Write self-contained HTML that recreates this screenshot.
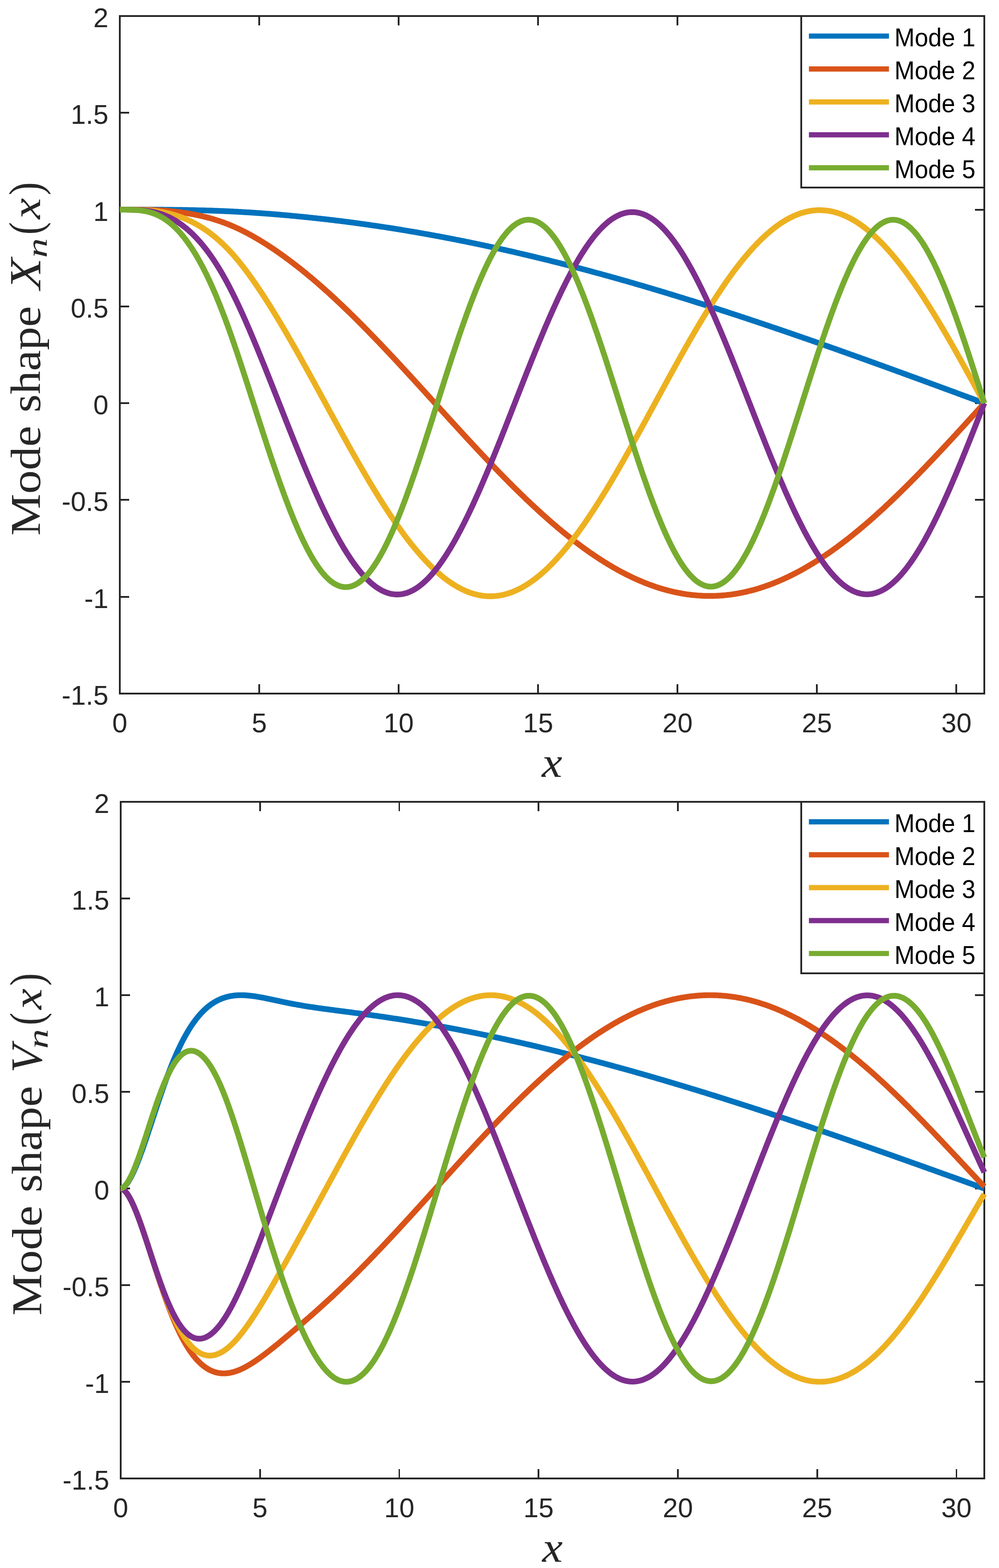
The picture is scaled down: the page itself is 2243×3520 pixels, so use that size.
<!DOCTYPE html>
<html><head><meta charset="utf-8"><title>Mode shapes</title><style>html,body{margin:0;padding:0;background:#fff}svg{display:block}</style></head><body>
<svg width="2243" height="3520" viewBox="0 0 2243 3520">
<style>
.ax{fill:none;stroke:#262626;stroke-width:3.9;stroke-linecap:butt;shape-rendering:crispEdges}
.lg{fill:#fff;stroke:#262626;stroke-width:3.9;shape-rendering:crispEdges}
.cv path{fill:none;stroke-width:12.9;stroke-linejoin:round;stroke-linecap:butt}
.leg path{fill:none;stroke-width:11.7}
.tk{font-family:"Liberation Sans",Arial,Helvetica,sans-serif;font-size:61px;fill:#262626}
.le{font-family:"Liberation Sans",Arial,Helvetica,sans-serif;font-size:57px;fill:#000}
.rm{font-family:"Liberation Serif","Times New Roman",serif;font-size:100px;fill:#262626}
.mi{font-family:"Liberation Serif","Times New Roman",serif;font-style:italic;font-size:100px;fill:#262626}
.sub{font-size:68px}
</style>
<rect width="2243" height="3520" fill="#fff"/>
<path class="ax" d="M269.0 1556.9V1535.9M269.0 36.1V57.1M582.1 1556.9V1535.9M582.1 36.1V57.1M895.1 1556.9V1535.9M895.1 36.1V57.1M1208.2 1556.9V1535.9M1208.2 36.1V57.1M1521.3 1556.9V1535.9M1521.3 36.1V57.1M1834.3 1556.9V1535.9M1834.3 36.1V57.1M2147.4 1556.9V1535.9M2147.4 36.1V57.1M269.0 1556.9H290.0M2210.0 1556.9H2189.0M269.0 1339.6H290.0M2210.0 1339.6H2189.0M269.0 1122.4H290.0M2210.0 1122.4H2189.0M269.0 905.1H290.0M2210.0 905.1H2189.0M269.0 687.9H290.0M2210.0 687.9H2189.0M269.0 470.6H290.0M2210.0 470.6H2189.0M269.0 253.4H290.0M2210.0 253.4H2189.0M269.0 36.1H290.0M2210.0 36.1H2189.0"/>
<rect class="ax" x="269.0" y="36.1" width="1941.0" height="1520.8"/>
<text class="tk" x="269.0" y="1644.1" text-anchor="middle">0</text>
<text class="tk" x="582.1" y="1644.1" text-anchor="middle">5</text>
<text class="tk" x="895.1" y="1644.1" text-anchor="middle">10</text>
<text class="tk" x="1208.2" y="1644.1" text-anchor="middle">15</text>
<text class="tk" x="1521.3" y="1644.1" text-anchor="middle">20</text>
<text class="tk" x="1834.3" y="1644.1" text-anchor="middle">25</text>
<text class="tk" x="2147.4" y="1644.1" text-anchor="middle">30</text>
<text class="tk" x="243.5" y="1581.9" text-anchor="end">-1.5</text>
<text class="tk" x="243.5" y="1364.6" text-anchor="end">-1</text>
<text class="tk" x="243.5" y="1147.4" text-anchor="end">-0.5</text>
<text class="tk" x="243.5" y="930.1" text-anchor="end">0</text>
<text class="tk" x="243.5" y="712.9" text-anchor="end">0.5</text>
<text class="tk" x="243.5" y="495.6" text-anchor="end">1</text>
<text class="tk" x="243.5" y="278.4" text-anchor="end">1.5</text>
<text class="tk" x="243.5" y="61.1" text-anchor="end">2</text>
<text class="mi" x="1216.4" y="1743.6" style="font-size:95.4px" textLength="45.9" lengthAdjust="spacingAndGlyphs">x</text>
<g class="cv"><path d="M269.0 470.6 L270.6 470.6 L272.1 470.6 L273.7 470.6 L275.3 470.6 L276.8 470.6 L278.4 470.6 L280.0 470.6 L281.5 470.6 L283.1 470.6 L284.7 470.6 L286.2 470.6 L287.8 470.6 L289.3 470.6 L290.9 470.6 L292.5 470.6 L294.0 470.6 L295.6 470.6 L297.2 470.6 L298.7 470.6 L300.3 470.6 L301.9 470.6 L303.4 470.6 L305.0 470.6 L306.6 470.6 L308.1 470.6 L309.7 470.6 L311.3 470.6 L312.8 470.6 L314.4 470.6 L316.0 470.6 L317.5 470.6 L319.1 470.6 L320.7 470.6 L322.2 470.6 L323.8 470.7 L325.4 470.7 L326.9 470.7 L328.5 470.7 L330.0 470.7 L331.6 470.7 L333.2 470.7 L334.7 470.7 L336.3 470.7 L337.9 470.7 L339.4 470.7 L341.0 470.7 L342.6 470.7 L344.1 470.7 L345.7 470.7 L347.3 470.7 L348.8 470.7 L350.4 470.7 L352.0 470.8 L353.5 470.8 L355.1 470.8 L356.7 470.8 L358.2 470.8 L359.8 470.8 L361.4 470.8 L362.9 470.8 L364.5 470.8 L366.1 470.8 L367.6 470.9 L369.2 470.9 L370.7 470.9 L372.3 470.9 L373.9 470.9 L375.4 470.9 L377.0 470.9 L378.6 471.0 L380.1 471.0 L381.7 471.0 L383.3 471.0 L384.8 471.0 L386.4 471.0 L388.0 471.1 L389.5 471.1 L391.1 471.1 L392.7 471.1 L394.2 471.1 L395.8 471.1 L397.4 471.2 L398.9 471.2 L400.5 471.2 L402.1 471.2 L403.6 471.3 L405.2 471.3 L406.7 471.3 L408.3 471.3 L409.9 471.3 L411.4 471.4 L413.0 471.4 L414.6 471.4 L416.1 471.5 L417.7 471.5 L419.3 471.5 L420.8 471.5 L422.4 471.6 L424.0 471.6 L425.5 471.6 L427.1 471.7 L428.7 471.7 L430.2 471.7 L431.8 471.7 L433.4 471.8 L434.9 471.8 L436.5 471.8 L438.1 471.9 L439.6 471.9 L441.2 472.0 L442.8 472.0 L444.3 472.0 L445.9 472.1 L447.4 472.1 L449.0 472.1 L450.6 472.2 L452.1 472.2 L453.7 472.3 L455.3 472.3 L456.8 472.3 L458.4 472.4 L460.0 472.4 L461.5 472.5 L463.1 472.5 L464.7 472.6 L466.2 472.6 L467.8 472.7 L469.4 472.7 L470.9 472.8 L472.5 472.8 L474.1 472.8 L475.6 472.9 L477.2 473.0 L478.8 473.0 L480.3 473.1 L481.9 473.1 L483.4 473.2 L485.0 473.2 L486.6 473.3 L488.1 473.3 L489.7 473.4 L491.3 473.5 L492.8 473.5 L494.4 473.6 L496.0 473.6 L497.5 473.7 L499.1 473.8 L500.7 473.8 L502.2 473.9 L503.8 474.0 L505.4 474.0 L506.9 474.1 L508.5 474.2 L510.1 474.2 L511.6 474.3 L513.2 474.4 L514.8 474.4 L516.3 474.5 L517.9 474.6 L519.5 474.7 L521.0 474.7 L522.6 474.8 L524.1 474.9 L525.7 475.0 L527.3 475.1 L528.8 475.1 L530.4 475.2 L532.0 475.3 L533.5 475.4 L535.1 475.5 L536.7 475.6 L538.2 475.6 L539.8 475.7 L541.4 475.8 L542.9 475.9 L544.5 476.0 L546.1 476.1 L547.6 476.2 L549.2 476.3 L550.8 476.4 L552.3 476.5 L553.9 476.6 L555.5 476.6 L557.0 476.7 L558.6 476.8 L560.2 476.9 L561.7 477.0 L563.3 477.1 L564.8 477.2 L566.4 477.3 L568.0 477.4 L569.5 477.6 L571.1 477.7 L572.7 477.8 L574.2 477.9 L575.8 478.0 L577.4 478.1 L578.9 478.2 L580.5 478.3 L582.1 478.4 L583.6 478.5 L585.2 478.6 L586.8 478.7 L588.3 478.9 L589.9 479.0 L591.5 479.1 L593.0 479.2 L594.6 479.3 L596.2 479.4 L597.7 479.6 L599.3 479.7 L600.8 479.8 L602.4 479.9 L604.0 480.0 L605.5 480.2 L607.1 480.3 L608.7 480.4 L610.2 480.5 L611.8 480.6 L613.4 480.8 L614.9 480.9 L616.5 481.0 L618.1 481.2 L619.6 481.3 L621.2 481.4 L622.8 481.5 L624.3 481.7 L625.9 481.8 L627.5 481.9 L629.0 482.1 L630.6 482.2 L632.2 482.3 L633.7 482.5 L635.3 482.6 L636.9 482.7 L638.4 482.9 L640.0 483.0 L641.5 483.1 L643.1 483.3 L644.7 483.4 L647.8 483.7 L650.9 484.0 L654.1 484.3 L657.2 484.6 L660.3 484.9 L663.5 485.2 L666.6 485.5 L669.7 485.8 L672.9 486.1 L676.0 486.4 L679.1 486.7 L682.2 487.0 L685.4 487.3 L688.5 487.6 L691.6 487.9 L694.8 488.3 L697.9 488.6 L701.0 488.9 L704.2 489.3 L707.3 489.6 L710.4 489.9 L713.6 490.3 L716.7 490.6 L719.8 491.0 L722.9 491.3 L726.1 491.7 L729.2 492.0 L732.3 492.4 L735.5 492.7 L738.6 493.1 L741.7 493.5 L744.9 493.8 L748.0 494.2 L751.1 494.6 L754.2 495.0 L757.4 495.3 L760.5 495.7 L763.6 496.1 L766.8 496.5 L769.9 496.9 L773.0 497.3 L776.2 497.7 L779.3 498.1 L782.4 498.5 L785.6 498.9 L788.7 499.3 L791.8 499.7 L794.9 500.1 L798.1 500.6 L801.2 501.0 L804.3 501.4 L807.5 501.8 L810.6 502.3 L813.7 502.7 L816.9 503.1 L820.0 503.6 L823.1 504.0 L826.3 504.5 L829.4 504.9 L832.5 505.4 L835.6 505.8 L838.8 506.3 L841.9 506.7 L845.0 507.2 L848.2 507.6 L851.3 508.1 L854.4 508.6 L857.6 509.0 L860.7 509.5 L863.8 510.0 L867.0 510.5 L870.1 511.0 L873.2 511.4 L876.3 511.9 L879.5 512.4 L882.6 512.9 L885.7 513.4 L888.9 513.9 L892.0 514.4 L895.1 514.9 L898.3 515.4 L901.4 515.9 L904.5 516.5 L907.7 517.0 L910.8 517.5 L913.9 518.0 L917.0 518.5 L920.2 519.1 L923.3 519.6 L926.4 520.1 L929.6 520.7 L932.7 521.2 L935.8 521.7 L939.0 522.3 L942.1 522.8 L945.2 523.4 L948.4 523.9 L951.5 524.5 L954.6 525.0 L957.7 525.6 L960.9 526.2 L964.0 526.7 L967.1 527.3 L970.3 527.9 L973.4 528.4 L976.5 529.0 L979.7 529.6 L982.8 530.2 L985.9 530.7 L989.0 531.3 L992.2 531.9 L995.3 532.5 L998.4 533.1 L1001.6 533.7 L1004.7 534.3 L1007.8 534.9 L1011.0 535.5 L1014.1 536.1 L1017.2 536.7 L1020.4 537.3 L1023.5 538.0 L1026.6 538.6 L1029.7 539.2 L1032.9 539.8 L1036.0 540.4 L1039.1 541.1 L1042.3 541.7 L1045.4 542.3 L1048.5 543.0 L1051.7 543.6 L1054.8 544.2 L1057.9 544.9 L1061.1 545.5 L1064.2 546.2 L1067.3 546.8 L1070.4 547.5 L1073.6 548.1 L1076.7 548.8 L1079.8 549.5 L1083.0 550.1 L1086.1 550.8 L1089.2 551.5 L1092.4 552.1 L1095.5 552.8 L1098.6 553.5 L1101.8 554.2 L1104.9 554.8 L1108.0 555.5 L1111.1 556.2 L1114.3 556.9 L1117.4 557.6 L1120.5 558.3 L1123.7 559.0 L1126.8 559.7 L1129.9 560.4 L1133.1 561.1 L1136.2 561.8 L1139.3 562.5 L1142.4 563.2 L1145.6 563.9 L1148.7 564.6 L1151.8 565.3 L1155.0 566.1 L1158.1 566.8 L1161.2 567.5 L1164.4 568.2 L1167.5 569.0 L1170.6 569.7 L1173.8 570.4 L1176.9 571.2 L1180.0 571.9 L1183.1 572.6 L1186.3 573.4 L1189.4 574.1 L1192.5 574.9 L1195.7 575.6 L1198.8 576.4 L1201.9 577.1 L1205.1 577.9 L1208.2 578.7 L1211.3 579.4 L1214.5 580.2 L1217.6 580.9 L1220.7 581.7 L1223.8 582.5 L1227.0 583.3 L1230.1 584.0 L1233.2 584.8 L1236.4 585.6 L1239.5 586.4 L1242.6 587.2 L1245.8 587.9 L1248.9 588.7 L1252.0 589.5 L1255.2 590.3 L1258.3 591.1 L1261.4 591.9 L1264.5 592.7 L1267.7 593.5 L1270.8 594.3 L1273.9 595.1 L1277.1 595.9 L1280.2 596.8 L1283.3 597.6 L1286.5 598.4 L1289.6 599.2 L1292.7 600.0 L1295.9 600.8 L1299.0 601.7 L1302.1 602.5 L1305.2 603.3 L1308.4 604.2 L1311.5 605.0 L1314.6 605.8 L1317.8 606.7 L1320.9 607.5 L1324.0 608.3 L1327.2 609.2 L1330.3 610.0 L1333.4 610.9 L1336.5 611.7 L1339.7 612.6 L1342.8 613.4 L1345.9 614.3 L1349.1 615.1 L1352.2 616.0 L1355.3 616.9 L1358.5 617.7 L1361.6 618.6 L1364.7 619.5 L1367.9 620.3 L1371.0 621.2 L1374.1 622.1 L1377.2 623.0 L1380.4 623.8 L1383.5 624.7 L1386.6 625.6 L1389.8 626.5 L1392.9 627.4 L1396.0 628.3 L1399.2 629.2 L1402.3 630.0 L1405.4 630.9 L1408.6 631.8 L1411.7 632.7 L1414.8 633.6 L1417.9 634.5 L1421.1 635.4 L1424.2 636.3 L1427.3 637.3 L1430.5 638.2 L1433.6 639.1 L1436.7 640.0 L1439.9 640.9 L1443.0 641.8 L1446.1 642.7 L1449.3 643.7 L1452.4 644.6 L1455.5 645.5 L1458.6 646.4 L1461.8 647.4 L1464.9 648.3 L1468.0 649.2 L1471.2 650.2 L1474.3 651.1 L1477.4 652.0 L1480.6 653.0 L1483.7 653.9 L1486.8 654.9 L1490.0 655.8 L1493.1 656.7 L1496.2 657.7 L1499.3 658.6 L1502.5 659.6 L1505.6 660.5 L1508.7 661.5 L1511.9 662.5 L1515.0 663.4 L1518.1 664.4 L1521.3 665.3 L1524.4 666.3 L1527.5 667.3 L1530.6 668.2 L1533.8 669.2 L1536.9 670.2 L1540.0 671.1 L1543.2 672.1 L1546.3 673.1 L1549.4 674.1 L1552.6 675.0 L1555.7 676.0 L1558.8 677.0 L1562.0 678.0 L1565.1 679.0 L1568.2 680.0 L1571.3 681.0 L1574.5 681.9 L1577.6 682.9 L1580.7 683.9 L1583.9 684.9 L1587.0 685.9 L1590.1 686.9 L1593.3 687.9 L1596.4 688.9 L1599.5 689.9 L1602.7 690.9 L1605.8 691.9 L1608.9 692.9 L1612.0 693.9 L1615.2 694.9 L1618.3 696.0 L1621.4 697.0 L1624.6 698.0 L1627.7 699.0 L1630.8 700.0 L1634.0 701.0 L1637.1 702.1 L1640.2 703.1 L1643.4 704.1 L1646.5 705.1 L1649.6 706.1 L1652.7 707.2 L1655.9 708.2 L1659.0 709.2 L1662.1 710.3 L1665.3 711.3 L1668.4 712.3 L1671.5 713.4 L1674.7 714.4 L1677.8 715.4 L1680.9 716.5 L1684.1 717.5 L1687.2 718.6 L1690.3 719.6 L1693.4 720.7 L1696.6 721.7 L1699.7 722.7 L1702.8 723.8 L1706.0 724.8 L1709.1 725.9 L1712.2 726.9 L1715.4 728.0 L1718.5 729.1 L1721.6 730.1 L1724.8 731.2 L1727.9 732.2 L1731.0 733.3 L1734.1 734.3 L1737.3 735.4 L1740.4 736.5 L1743.5 737.5 L1746.7 738.6 L1749.8 739.7 L1752.9 740.7 L1756.1 741.8 L1759.2 742.9 L1762.3 743.9 L1765.4 745.0 L1768.6 746.1 L1771.7 747.2 L1774.8 748.2 L1778.0 749.3 L1781.1 750.4 L1784.2 751.5 L1787.4 752.6 L1790.5 753.6 L1793.6 754.7 L1796.8 755.8 L1799.9 756.9 L1803.0 758.0 L1806.1 759.1 L1809.3 760.2 L1812.4 761.2 L1815.5 762.3 L1818.7 763.4 L1821.8 764.5 L1824.9 765.6 L1828.1 766.7 L1831.2 767.8 L1834.3 768.9 L1837.5 770.0 L1840.6 771.1 L1843.7 772.2 L1846.8 773.3 L1850.0 774.4 L1853.1 775.5 L1856.2 776.6 L1859.4 777.7 L1862.5 778.8 L1865.6 779.9 L1868.8 781.0 L1871.9 782.1 L1875.0 783.2 L1878.2 784.3 L1881.3 785.4 L1884.4 786.6 L1887.5 787.7 L1890.7 788.8 L1893.8 789.9 L1896.9 791.0 L1900.1 792.1 L1903.2 793.2 L1906.3 794.4 L1909.5 795.5 L1912.6 796.6 L1915.7 797.7 L1918.8 798.8 L1922.0 799.9 L1925.1 801.1 L1928.2 802.2 L1931.4 803.3 L1934.5 804.4 L1937.6 805.6 L1940.8 806.7 L1943.9 807.8 L1947.0 808.9 L1950.2 810.1 L1953.3 811.2 L1956.4 812.3 L1959.5 813.4 L1962.7 814.6 L1965.8 815.7 L1968.9 816.8 L1972.1 818.0 L1975.2 819.1 L1978.3 820.2 L1981.5 821.4 L1984.6 822.5 L1987.7 823.6 L1990.9 824.8 L1994.0 825.9 L1997.1 827.0 L2000.2 828.2 L2003.4 829.3 L2006.5 830.4 L2009.6 831.6 L2012.8 832.7 L2015.9 833.9 L2019.0 835.0 L2022.2 836.1 L2025.3 837.3 L2028.4 838.4 L2031.6 839.6 L2034.7 840.7 L2037.8 841.8 L2040.9 843.0 L2044.1 844.1 L2047.2 845.3 L2050.3 846.4 L2053.5 847.6 L2056.6 848.7 L2059.7 849.8 L2062.9 851.0 L2066.0 852.1 L2069.1 853.3 L2072.3 854.4 L2075.4 855.6 L2078.5 856.7 L2081.6 857.9 L2084.8 859.0 L2087.9 860.2 L2091.0 861.3 L2094.2 862.5 L2097.3 863.6 L2100.4 864.8 L2103.6 865.9 L2106.7 867.1 L2109.8 868.2 L2112.9 869.4 L2116.1 870.5 L2119.2 871.7 L2122.3 872.8 L2125.5 874.0 L2128.6 875.1 L2131.7 876.3 L2134.9 877.4 L2138.0 878.6 L2141.1 879.7 L2144.3 880.9 L2147.4 882.0 L2150.5 883.2 L2153.6 884.4 L2156.8 885.5 L2159.9 886.7 L2163.0 887.8 L2166.2 889.0 L2169.3 890.1 L2172.4 891.3 L2175.6 892.4 L2178.7 893.6 L2181.8 894.7 L2185.0 895.9 L2188.1 897.0 L2191.2 898.2 L2194.3 899.4 L2197.5 900.5 L2200.6 901.7 L2203.7 902.8 L2206.9 904.0 L2210.0 905.1" stroke="#0072BD"/>
<path d="M269.0 470.6 L270.6 470.6 L272.1 470.6 L273.7 470.6 L275.3 470.6 L276.8 470.6 L278.4 470.6 L280.0 470.6 L281.5 470.6 L283.1 470.6 L284.7 470.6 L286.2 470.6 L287.8 470.6 L289.3 470.6 L290.9 470.6 L292.5 470.6 L294.0 470.6 L295.6 470.6 L297.2 470.6 L298.7 470.7 L300.3 470.7 L301.9 470.7 L303.4 470.7 L305.0 470.7 L306.6 470.7 L308.1 470.7 L309.7 470.7 L311.3 470.8 L312.8 470.8 L314.4 470.8 L316.0 470.8 L317.5 470.8 L319.1 470.9 L320.7 470.9 L322.2 470.9 L323.8 470.9 L325.4 471.0 L326.9 471.0 L328.5 471.0 L330.0 471.1 L331.6 471.1 L333.2 471.2 L334.7 471.2 L336.3 471.3 L337.9 471.3 L339.4 471.4 L341.0 471.4 L342.6 471.5 L344.1 471.5 L345.7 471.6 L347.3 471.7 L348.8 471.7 L350.4 471.8 L352.0 471.9 L353.5 472.0 L355.1 472.0 L356.7 472.1 L358.2 472.2 L359.8 472.3 L361.4 472.4 L362.9 472.5 L364.5 472.6 L366.1 472.7 L367.6 472.8 L369.2 472.9 L370.7 473.0 L372.3 473.2 L373.9 473.3 L375.4 473.4 L377.0 473.5 L378.6 473.7 L380.1 473.8 L381.7 473.9 L383.3 474.1 L384.8 474.2 L386.4 474.4 L388.0 474.6 L389.5 474.7 L391.1 474.9 L392.7 475.0 L394.2 475.2 L395.8 475.4 L397.4 475.6 L398.9 475.8 L400.5 476.0 L402.1 476.2 L403.6 476.4 L405.2 476.6 L406.7 476.8 L408.3 477.0 L409.9 477.2 L411.4 477.4 L413.0 477.6 L414.6 477.9 L416.1 478.1 L417.7 478.4 L419.3 478.6 L420.8 478.9 L422.4 479.1 L424.0 479.4 L425.5 479.6 L427.1 479.9 L428.7 480.2 L430.2 480.5 L431.8 480.7 L433.4 481.0 L434.9 481.3 L436.5 481.6 L438.1 481.9 L439.6 482.2 L441.2 482.6 L442.8 482.9 L444.3 483.2 L445.9 483.5 L447.4 483.9 L449.0 484.2 L450.6 484.6 L452.1 484.9 L453.7 485.3 L455.3 485.7 L456.8 486.0 L458.4 486.4 L460.0 486.8 L461.5 487.2 L463.1 487.6 L464.7 488.0 L466.2 488.4 L467.8 488.8 L469.4 489.2 L470.9 489.7 L472.5 490.1 L474.1 490.5 L475.6 491.0 L477.2 491.4 L478.8 491.9 L480.3 492.4 L481.9 492.8 L483.4 493.3 L485.0 493.8 L486.6 494.3 L488.1 494.8 L489.7 495.3 L491.3 495.8 L492.8 496.4 L494.4 496.9 L496.0 497.4 L497.5 498.0 L499.1 498.5 L500.7 499.1 L502.2 499.7 L503.8 500.2 L505.4 500.8 L506.9 501.4 L508.5 502.0 L510.1 502.6 L511.6 503.3 L513.2 503.9 L514.8 504.5 L516.3 505.1 L517.9 505.8 L519.5 506.5 L521.0 507.1 L522.6 507.8 L524.1 508.5 L525.7 509.2 L527.3 509.8 L528.8 510.6 L530.4 511.3 L532.0 512.0 L533.5 512.7 L535.1 513.4 L536.7 514.2 L538.2 514.9 L539.8 515.7 L541.4 516.4 L542.9 517.2 L544.5 518.0 L546.1 518.8 L547.6 519.6 L549.2 520.4 L550.8 521.2 L552.3 522.0 L553.9 522.8 L555.5 523.6 L557.0 524.5 L558.6 525.3 L560.2 526.2 L561.7 527.0 L563.3 527.9 L564.8 528.8 L566.4 529.6 L568.0 530.5 L569.5 531.4 L571.1 532.3 L572.7 533.2 L574.2 534.1 L575.8 535.0 L577.4 535.9 L578.9 536.9 L580.5 537.8 L582.1 538.7 L583.6 539.7 L585.2 540.6 L586.8 541.6 L588.3 542.5 L589.9 543.5 L591.5 544.5 L593.0 545.5 L594.6 546.4 L596.2 547.4 L597.7 548.4 L599.3 549.4 L600.8 550.4 L602.4 551.4 L604.0 552.5 L605.5 553.5 L607.1 554.5 L608.7 555.5 L610.2 556.6 L611.8 557.6 L613.4 558.7 L614.9 559.7 L616.5 560.8 L618.1 561.9 L619.6 562.9 L621.2 564.0 L622.8 565.1 L624.3 566.2 L625.9 567.3 L627.5 568.4 L629.0 569.5 L630.6 570.6 L632.2 571.7 L633.7 572.8 L635.3 573.9 L636.9 575.0 L638.4 576.2 L640.0 577.3 L641.5 578.5 L643.1 579.6 L644.7 580.8 L647.8 583.1 L650.9 585.4 L654.1 587.8 L657.2 590.2 L660.3 592.6 L663.5 595.0 L666.6 597.4 L669.7 599.9 L672.9 602.3 L676.0 604.8 L679.1 607.3 L682.2 609.9 L685.4 612.4 L688.5 615.0 L691.6 617.6 L694.8 620.2 L697.9 622.8 L701.0 625.4 L704.2 628.1 L707.3 630.7 L710.4 633.4 L713.6 636.1 L716.7 638.8 L719.8 641.6 L722.9 644.3 L726.1 647.1 L729.2 649.9 L732.3 652.7 L735.5 655.5 L738.6 658.3 L741.7 661.2 L744.9 664.1 L748.0 666.9 L751.1 669.8 L754.2 672.7 L757.4 675.7 L760.5 678.6 L763.6 681.6 L766.8 684.5 L769.9 687.5 L773.0 690.5 L776.2 693.5 L779.3 696.5 L782.4 699.5 L785.6 702.6 L788.7 705.7 L791.8 708.7 L794.9 711.8 L798.1 714.9 L801.2 718.0 L804.3 721.1 L807.5 724.3 L810.6 727.4 L813.7 730.6 L816.9 733.7 L820.0 736.9 L823.1 740.1 L826.3 743.3 L829.4 746.5 L832.5 749.7 L835.6 752.9 L838.8 756.2 L841.9 759.4 L845.0 762.7 L848.2 765.9 L851.3 769.2 L854.4 772.5 L857.6 775.8 L860.7 779.1 L863.8 782.4 L867.0 785.7 L870.1 789.0 L873.2 792.3 L876.3 795.7 L879.5 799.0 L882.6 802.4 L885.7 805.7 L888.9 809.1 L892.0 812.4 L895.1 815.8 L898.3 819.2 L901.4 822.6 L904.5 826.0 L907.7 829.4 L910.8 832.8 L913.9 836.2 L917.0 839.6 L920.2 843.0 L923.3 846.4 L926.4 849.8 L929.6 853.2 L932.7 856.7 L935.8 860.1 L939.0 863.5 L942.1 867.0 L945.2 870.4 L948.4 873.8 L951.5 877.3 L954.6 880.7 L957.7 884.2 L960.9 887.6 L964.0 891.1 L967.1 894.5 L970.3 898.0 L973.4 901.4 L976.5 904.9 L979.7 908.3 L982.8 911.8 L985.9 915.2 L989.0 918.7 L992.2 922.1 L995.3 925.6 L998.4 929.0 L1001.6 932.5 L1004.7 935.9 L1007.8 939.3 L1011.0 942.8 L1014.1 946.2 L1017.2 949.6 L1020.4 953.1 L1023.5 956.5 L1026.6 959.9 L1029.7 963.4 L1032.9 966.8 L1036.0 970.2 L1039.1 973.6 L1042.3 977.0 L1045.4 980.4 L1048.5 983.8 L1051.7 987.2 L1054.8 990.6 L1057.9 993.9 L1061.1 997.3 L1064.2 1000.7 L1067.3 1004.0 L1070.4 1007.4 L1073.6 1010.8 L1076.7 1014.1 L1079.8 1017.4 L1083.0 1020.8 L1086.1 1024.1 L1089.2 1027.4 L1092.4 1030.7 L1095.5 1034.0 L1098.6 1037.3 L1101.8 1040.6 L1104.9 1043.8 L1108.0 1047.1 L1111.1 1050.4 L1114.3 1053.6 L1117.4 1056.8 L1120.5 1060.1 L1123.7 1063.3 L1126.8 1066.5 L1129.9 1069.7 L1133.1 1072.9 L1136.2 1076.1 L1139.3 1079.2 L1142.4 1082.4 L1145.6 1085.5 L1148.7 1088.6 L1151.8 1091.8 L1155.0 1094.9 L1158.1 1098.0 L1161.2 1101.0 L1164.4 1104.1 L1167.5 1107.2 L1170.6 1110.2 L1173.8 1113.2 L1176.9 1116.3 L1180.0 1119.3 L1183.1 1122.3 L1186.3 1125.2 L1189.4 1128.2 L1192.5 1131.2 L1195.7 1134.1 L1198.8 1137.0 L1201.9 1139.9 L1205.1 1142.8 L1208.2 1145.7 L1211.3 1148.5 L1214.5 1151.4 L1217.6 1154.2 L1220.7 1157.0 L1223.8 1159.8 L1227.0 1162.6 L1230.1 1165.4 L1233.2 1168.1 L1236.4 1170.9 L1239.5 1173.6 L1242.6 1176.3 L1245.8 1178.9 L1248.9 1181.6 L1252.0 1184.3 L1255.2 1186.9 L1258.3 1189.5 L1261.4 1192.1 L1264.5 1194.7 L1267.7 1197.2 L1270.8 1199.8 L1273.9 1202.3 L1277.1 1204.8 L1280.2 1207.2 L1283.3 1209.7 L1286.5 1212.2 L1289.6 1214.6 L1292.7 1217.0 L1295.9 1219.4 L1299.0 1221.7 L1302.1 1224.1 L1305.2 1226.4 L1308.4 1228.7 L1311.5 1231.0 L1314.6 1233.2 L1317.8 1235.5 L1320.9 1237.7 L1324.0 1239.9 L1327.2 1242.1 L1330.3 1244.2 L1333.4 1246.3 L1336.5 1248.5 L1339.7 1250.5 L1342.8 1252.6 L1345.9 1254.7 L1349.1 1256.7 L1352.2 1258.7 L1355.3 1260.7 L1358.5 1262.6 L1361.6 1264.5 L1364.7 1266.5 L1367.9 1268.3 L1371.0 1270.2 L1374.1 1272.0 L1377.2 1273.9 L1380.4 1275.7 L1383.5 1277.4 L1386.6 1279.2 L1389.8 1280.9 L1392.9 1282.6 L1396.0 1284.3 L1399.2 1285.9 L1402.3 1287.6 L1405.4 1289.2 L1408.6 1290.7 L1411.7 1292.3 L1414.8 1293.8 L1417.9 1295.3 L1421.1 1296.8 L1424.2 1298.3 L1427.3 1299.7 L1430.5 1301.1 L1433.6 1302.5 L1436.7 1303.8 L1439.9 1305.1 L1443.0 1306.4 L1446.1 1307.7 L1449.3 1309.0 L1452.4 1310.2 L1455.5 1311.4 L1458.6 1312.6 L1461.8 1313.7 L1464.9 1314.8 L1468.0 1315.9 L1471.2 1317.0 L1474.3 1318.1 L1477.4 1319.1 L1480.6 1320.1 L1483.7 1321.0 L1486.8 1322.0 L1490.0 1322.9 L1493.1 1323.8 L1496.2 1324.6 L1499.3 1325.5 L1502.5 1326.3 L1505.6 1327.0 L1508.7 1327.8 L1511.9 1328.5 L1515.0 1329.2 L1518.1 1329.9 L1521.3 1330.5 L1524.4 1331.2 L1527.5 1331.7 L1530.6 1332.3 L1533.8 1332.8 L1536.9 1333.4 L1540.0 1333.8 L1543.2 1334.3 L1546.3 1334.7 L1549.4 1335.1 L1552.6 1335.5 L1555.7 1335.8 L1558.8 1336.1 L1562.0 1336.4 L1565.1 1336.7 L1568.2 1336.9 L1571.3 1337.1 L1574.5 1337.3 L1577.6 1337.5 L1580.7 1337.6 L1583.9 1337.7 L1587.0 1337.8 L1590.1 1337.8 L1593.3 1337.8 L1596.4 1337.8 L1599.5 1337.8 L1602.7 1337.7 L1605.8 1337.6 L1608.9 1337.5 L1612.0 1337.3 L1615.2 1337.2 L1618.3 1337.0 L1621.4 1336.7 L1624.6 1336.5 L1627.7 1336.2 L1630.8 1335.9 L1634.0 1335.5 L1637.1 1335.1 L1640.2 1334.8 L1643.4 1334.3 L1646.5 1333.9 L1649.6 1333.4 L1652.7 1332.9 L1655.9 1332.4 L1659.0 1331.8 L1662.1 1331.2 L1665.3 1330.6 L1668.4 1330.0 L1671.5 1329.3 L1674.7 1328.6 L1677.8 1327.9 L1680.9 1327.1 L1684.1 1326.3 L1687.2 1325.5 L1690.3 1324.7 L1693.4 1323.9 L1696.6 1323.0 L1699.7 1322.1 L1702.8 1321.1 L1706.0 1320.2 L1709.1 1319.2 L1712.2 1318.2 L1715.4 1317.1 L1718.5 1316.0 L1721.6 1314.9 L1724.8 1313.8 L1727.9 1312.7 L1731.0 1311.5 L1734.1 1310.3 L1737.3 1309.1 L1740.4 1307.8 L1743.5 1306.6 L1746.7 1305.3 L1749.8 1303.9 L1752.9 1302.6 L1756.1 1301.2 L1759.2 1299.8 L1762.3 1298.4 L1765.4 1296.9 L1768.6 1295.5 L1771.7 1293.9 L1774.8 1292.4 L1778.0 1290.9 L1781.1 1289.3 L1784.2 1287.7 L1787.4 1286.1 L1790.5 1284.4 L1793.6 1282.8 L1796.8 1281.1 L1799.9 1279.3 L1803.0 1277.6 L1806.1 1275.8 L1809.3 1274.0 L1812.4 1272.2 L1815.5 1270.4 L1818.7 1268.5 L1821.8 1266.6 L1824.9 1264.7 L1828.1 1262.8 L1831.2 1260.8 L1834.3 1258.9 L1837.5 1256.9 L1840.6 1254.8 L1843.7 1252.8 L1846.8 1250.7 L1850.0 1248.6 L1853.1 1246.5 L1856.2 1244.4 L1859.4 1242.2 L1862.5 1240.1 L1865.6 1237.9 L1868.8 1235.7 L1871.9 1233.4 L1875.0 1231.2 L1878.2 1228.9 L1881.3 1226.6 L1884.4 1224.3 L1887.5 1221.9 L1890.7 1219.6 L1893.8 1217.2 L1896.9 1214.8 L1900.1 1212.4 L1903.2 1209.9 L1906.3 1207.5 L1909.5 1205.0 L1912.6 1202.5 L1915.7 1200.0 L1918.8 1197.4 L1922.0 1194.9 L1925.1 1192.3 L1928.2 1189.7 L1931.4 1187.1 L1934.5 1184.5 L1937.6 1181.8 L1940.8 1179.2 L1943.9 1176.5 L1947.0 1173.8 L1950.2 1171.1 L1953.3 1168.4 L1956.4 1165.6 L1959.5 1162.9 L1962.7 1160.1 L1965.8 1157.3 L1968.9 1154.5 L1972.1 1151.6 L1975.2 1148.8 L1978.3 1145.9 L1981.5 1143.1 L1984.6 1140.2 L1987.7 1137.3 L1990.9 1134.3 L1994.0 1131.4 L1997.1 1128.5 L2000.2 1125.5 L2003.4 1122.5 L2006.5 1119.5 L2009.6 1116.5 L2012.8 1113.5 L2015.9 1110.5 L2019.0 1107.4 L2022.2 1104.4 L2025.3 1101.3 L2028.4 1098.2 L2031.6 1095.1 L2034.7 1092.0 L2037.8 1088.9 L2040.9 1085.8 L2044.1 1082.6 L2047.2 1079.5 L2050.3 1076.3 L2053.5 1073.1 L2056.6 1070.0 L2059.7 1066.8 L2062.9 1063.6 L2066.0 1060.3 L2069.1 1057.1 L2072.3 1053.9 L2075.4 1050.6 L2078.5 1047.4 L2081.6 1044.1 L2084.8 1040.8 L2087.9 1037.6 L2091.0 1034.3 L2094.2 1031.0 L2097.3 1027.7 L2100.4 1024.3 L2103.6 1021.0 L2106.7 1017.7 L2109.8 1014.4 L2112.9 1011.0 L2116.1 1007.7 L2119.2 1004.3 L2122.3 1001.0 L2125.5 997.6 L2128.6 994.2 L2131.7 990.8 L2134.9 987.4 L2138.0 984.1 L2141.1 980.7 L2144.3 977.3 L2147.4 973.9 L2150.5 970.4 L2153.6 967.0 L2156.8 963.6 L2159.9 960.2 L2163.0 956.8 L2166.2 953.3 L2169.3 949.9 L2172.4 946.5 L2175.6 943.0 L2178.7 939.6 L2181.8 936.2 L2185.0 932.7 L2188.1 929.3 L2191.2 925.8 L2194.3 922.4 L2197.5 918.9 L2200.6 915.5 L2203.7 912.0 L2206.9 908.6 L2210.0 905.1" stroke="#D95319"/>
<path d="M269.0 470.6 L270.6 470.6 L272.1 470.6 L273.7 470.6 L275.3 470.6 L276.8 470.6 L278.4 470.6 L280.0 470.6 L281.5 470.6 L283.1 470.6 L284.7 470.6 L286.2 470.6 L287.8 470.6 L289.3 470.6 L290.9 470.7 L292.5 470.7 L294.0 470.7 L295.6 470.7 L297.2 470.7 L298.7 470.7 L300.3 470.8 L301.9 470.8 L303.4 470.8 L305.0 470.8 L306.6 470.9 L308.1 470.9 L309.7 471.0 L311.3 471.0 L312.8 471.0 L314.4 471.1 L316.0 471.2 L317.5 471.2 L319.1 471.3 L320.7 471.4 L322.2 471.4 L323.8 471.5 L325.4 471.6 L326.9 471.7 L328.5 471.8 L330.0 471.9 L331.6 472.0 L333.2 472.2 L334.7 472.3 L336.3 472.4 L337.9 472.5 L339.4 472.7 L341.0 472.9 L342.6 473.0 L344.1 473.2 L345.7 473.4 L347.3 473.5 L348.8 473.7 L350.4 473.9 L352.0 474.1 L353.5 474.4 L355.1 474.6 L356.7 474.8 L358.2 475.1 L359.8 475.3 L361.4 475.6 L362.9 475.8 L364.5 476.1 L366.1 476.4 L367.6 476.7 L369.2 477.0 L370.7 477.3 L372.3 477.7 L373.9 478.0 L375.4 478.4 L377.0 478.7 L378.6 479.1 L380.1 479.5 L381.7 479.9 L383.3 480.3 L384.8 480.7 L386.4 481.1 L388.0 481.5 L389.5 482.0 L391.1 482.4 L392.7 482.9 L394.2 483.4 L395.8 483.9 L397.4 484.4 L398.9 484.9 L400.5 485.4 L402.1 486.0 L403.6 486.5 L405.2 487.1 L406.7 487.6 L408.3 488.2 L409.9 488.8 L411.4 489.4 L413.0 490.1 L414.6 490.7 L416.1 491.4 L417.7 492.0 L419.3 492.7 L420.8 493.4 L422.4 494.1 L424.0 494.8 L425.5 495.5 L427.1 496.3 L428.7 497.0 L430.2 497.8 L431.8 498.6 L433.4 499.4 L434.9 500.2 L436.5 501.0 L438.1 501.8 L439.6 502.7 L441.2 503.5 L442.8 504.4 L444.3 505.3 L445.9 506.2 L447.4 507.1 L449.0 508.1 L450.6 509.0 L452.1 510.0 L453.7 511.0 L455.3 512.0 L456.8 513.0 L458.4 514.0 L460.0 515.1 L461.5 516.1 L463.1 517.2 L464.7 518.3 L466.2 519.4 L467.8 520.5 L469.4 521.6 L470.9 522.8 L472.5 524.0 L474.1 525.2 L475.6 526.4 L477.2 527.6 L478.8 528.8 L480.3 530.1 L481.9 531.4 L483.4 532.6 L485.0 534.0 L486.6 535.3 L488.1 536.6 L489.7 538.0 L491.3 539.4 L492.8 540.8 L494.4 542.2 L496.0 543.6 L497.5 545.1 L499.1 546.5 L500.7 548.0 L502.2 549.5 L503.8 551.1 L505.4 552.6 L506.9 554.2 L508.5 555.8 L510.1 557.4 L511.6 559.0 L513.2 560.6 L514.8 562.3 L516.3 564.0 L517.9 565.7 L519.5 567.4 L521.0 569.1 L522.6 570.9 L524.1 572.6 L525.7 574.4 L527.3 576.2 L528.8 578.1 L530.4 579.9 L532.0 581.8 L533.5 583.6 L535.1 585.5 L536.7 587.5 L538.2 589.4 L539.8 591.3 L541.4 593.3 L542.9 595.3 L544.5 597.3 L546.1 599.3 L547.6 601.3 L549.2 603.4 L550.8 605.4 L552.3 607.5 L553.9 609.6 L555.5 611.7 L557.0 613.8 L558.6 615.9 L560.2 618.1 L561.7 620.3 L563.3 622.4 L564.8 624.6 L566.4 626.8 L568.0 629.0 L569.5 631.3 L571.1 633.5 L572.7 635.8 L574.2 638.1 L575.8 640.3 L577.4 642.6 L578.9 644.9 L580.5 647.3 L582.1 649.6 L583.6 651.9 L585.2 654.3 L586.8 656.6 L588.3 659.0 L589.9 661.4 L591.5 663.8 L593.0 666.2 L594.6 668.6 L596.2 671.0 L597.7 673.5 L599.3 675.9 L600.8 678.4 L602.4 680.9 L604.0 683.3 L605.5 685.8 L607.1 688.3 L608.7 690.8 L610.2 693.3 L611.8 695.9 L613.4 698.4 L614.9 700.9 L616.5 703.5 L618.1 706.1 L619.6 708.6 L621.2 711.2 L622.8 713.8 L624.3 716.4 L625.9 719.0 L627.5 721.6 L629.0 724.2 L630.6 726.8 L632.2 729.5 L633.7 732.1 L635.3 734.7 L636.9 737.4 L638.4 740.1 L640.0 742.7 L641.5 745.4 L643.1 748.1 L644.7 750.8 L647.8 756.2 L650.9 761.6 L654.1 767.0 L657.2 772.5 L660.3 778.0 L663.5 783.5 L666.6 789.0 L669.7 794.6 L672.9 800.2 L676.0 805.8 L679.1 811.4 L682.2 817.0 L685.4 822.6 L688.5 828.3 L691.6 833.9 L694.8 839.6 L697.9 845.3 L701.0 851.0 L704.2 856.7 L707.3 862.4 L710.4 868.2 L713.6 873.9 L716.7 879.6 L719.8 885.4 L722.9 891.1 L726.1 896.9 L729.2 902.6 L732.3 908.4 L735.5 914.1 L738.6 919.9 L741.7 925.6 L744.9 931.3 L748.0 937.1 L751.1 942.8 L754.2 948.5 L757.4 954.2 L760.5 960.0 L763.6 965.6 L766.8 971.3 L769.9 977.0 L773.0 982.7 L776.2 988.3 L779.3 994.0 L782.4 999.6 L785.6 1005.2 L788.7 1010.8 L791.8 1016.3 L794.9 1021.9 L798.1 1027.4 L801.2 1032.9 L804.3 1038.4 L807.5 1043.9 L810.6 1049.3 L813.7 1054.7 L816.9 1060.1 L820.0 1065.5 L823.1 1070.8 L826.3 1076.1 L829.4 1081.4 L832.5 1086.6 L835.6 1091.8 L838.8 1097.0 L841.9 1102.1 L845.0 1107.2 L848.2 1112.3 L851.3 1117.3 L854.4 1122.3 L857.6 1127.3 L860.7 1132.2 L863.8 1137.1 L867.0 1141.9 L870.1 1146.7 L873.2 1151.5 L876.3 1156.2 L879.5 1160.9 L882.6 1165.5 L885.7 1170.1 L888.9 1174.6 L892.0 1179.1 L895.1 1183.5 L898.3 1187.9 L901.4 1192.2 L904.5 1196.5 L907.7 1200.8 L910.8 1205.0 L913.9 1209.1 L917.0 1213.2 L920.2 1217.2 L923.3 1221.2 L926.4 1225.1 L929.6 1228.9 L932.7 1232.7 L935.8 1236.5 L939.0 1240.1 L942.1 1243.8 L945.2 1247.3 L948.4 1250.8 L951.5 1254.3 L954.6 1257.7 L957.7 1261.0 L960.9 1264.2 L964.0 1267.4 L967.1 1270.5 L970.3 1273.6 L973.4 1276.6 L976.5 1279.5 L979.7 1282.4 L982.8 1285.2 L985.9 1287.9 L989.0 1290.6 L992.2 1293.2 L995.3 1295.7 L998.4 1298.2 L1001.6 1300.6 L1004.7 1302.9 L1007.8 1305.2 L1011.0 1307.3 L1014.1 1309.5 L1017.2 1311.5 L1020.4 1313.5 L1023.5 1315.3 L1026.6 1317.2 L1029.7 1318.9 L1032.9 1320.6 L1036.0 1322.2 L1039.1 1323.7 L1042.3 1325.2 L1045.4 1326.6 L1048.5 1327.9 L1051.7 1329.1 L1054.8 1330.3 L1057.9 1331.3 L1061.1 1332.3 L1064.2 1333.3 L1067.3 1334.1 L1070.4 1334.9 L1073.6 1335.6 L1076.7 1336.2 L1079.8 1336.8 L1083.0 1337.3 L1086.1 1337.7 L1089.2 1338.0 L1092.4 1338.2 L1095.5 1338.4 L1098.6 1338.5 L1101.8 1338.5 L1104.9 1338.5 L1108.0 1338.3 L1111.1 1338.1 L1114.3 1337.8 L1117.4 1337.4 L1120.5 1337.0 L1123.7 1336.5 L1126.8 1335.9 L1129.9 1335.2 L1133.1 1334.5 L1136.2 1333.6 L1139.3 1332.7 L1142.4 1331.8 L1145.6 1330.7 L1148.7 1329.6 L1151.8 1328.4 L1155.0 1327.1 L1158.1 1325.8 L1161.2 1324.3 L1164.4 1322.8 L1167.5 1321.3 L1170.6 1319.6 L1173.8 1317.9 L1176.9 1316.1 L1180.0 1314.2 L1183.1 1312.3 L1186.3 1310.3 L1189.4 1308.2 L1192.5 1306.1 L1195.7 1303.8 L1198.8 1301.5 L1201.9 1299.2 L1205.1 1296.7 L1208.2 1294.2 L1211.3 1291.7 L1214.5 1289.0 L1217.6 1286.3 L1220.7 1283.5 L1223.8 1280.7 L1227.0 1277.8 L1230.1 1274.8 L1233.2 1271.8 L1236.4 1268.7 L1239.5 1265.5 L1242.6 1262.3 L1245.8 1259.0 L1248.9 1255.6 L1252.0 1252.2 L1255.2 1248.7 L1258.3 1245.2 L1261.4 1241.6 L1264.5 1237.9 L1267.7 1234.2 L1270.8 1230.4 L1273.9 1226.6 L1277.1 1222.7 L1280.2 1218.7 L1283.3 1214.7 L1286.5 1210.7 L1289.6 1206.5 L1292.7 1202.4 L1295.9 1198.2 L1299.0 1193.9 L1302.1 1189.6 L1305.2 1185.2 L1308.4 1180.8 L1311.5 1176.3 L1314.6 1171.8 L1317.8 1167.2 L1320.9 1162.6 L1324.0 1157.9 L1327.2 1153.2 L1330.3 1148.5 L1333.4 1143.7 L1336.5 1138.9 L1339.7 1134.0 L1342.8 1129.1 L1345.9 1124.1 L1349.1 1119.1 L1352.2 1114.1 L1355.3 1109.0 L1358.5 1103.9 L1361.6 1098.8 L1364.7 1093.6 L1367.9 1088.4 L1371.0 1083.2 L1374.1 1077.9 L1377.2 1072.6 L1380.4 1067.2 L1383.5 1061.9 L1386.6 1056.5 L1389.8 1051.1 L1392.9 1045.6 L1396.0 1040.2 L1399.2 1034.7 L1402.3 1029.2 L1405.4 1023.6 L1408.6 1018.1 L1411.7 1012.5 L1414.8 1006.9 L1417.9 1001.3 L1421.1 995.7 L1424.2 990.0 L1427.3 984.4 L1430.5 978.7 L1433.6 973.0 L1436.7 967.3 L1439.9 961.6 L1443.0 955.9 L1446.1 950.2 L1449.3 944.4 L1452.4 938.7 L1455.5 932.9 L1458.6 927.2 L1461.8 921.4 L1464.9 915.7 L1468.0 909.9 L1471.2 904.1 L1474.3 898.4 L1477.4 892.6 L1480.6 886.8 L1483.7 881.1 L1486.8 875.3 L1490.0 869.6 L1493.1 863.8 L1496.2 858.1 L1499.3 852.4 L1502.5 846.7 L1505.6 841.0 L1508.7 835.3 L1511.9 829.6 L1515.0 823.9 L1518.1 818.3 L1521.3 812.6 L1524.4 807.0 L1527.5 801.4 L1530.6 795.8 L1533.8 790.2 L1536.9 784.7 L1540.0 779.2 L1543.2 773.7 L1546.3 768.2 L1549.4 762.7 L1552.6 757.3 L1555.7 751.9 L1558.8 746.5 L1562.0 741.2 L1565.1 735.8 L1568.2 730.6 L1571.3 725.3 L1574.5 720.1 L1577.6 714.9 L1580.7 709.7 L1583.9 704.6 L1587.0 699.5 L1590.1 694.4 L1593.3 689.4 L1596.4 684.4 L1599.5 679.5 L1602.7 674.6 L1605.8 669.7 L1608.9 664.9 L1612.0 660.1 L1615.2 655.4 L1618.3 650.7 L1621.4 646.1 L1624.6 641.5 L1627.7 636.9 L1630.8 632.4 L1634.0 628.0 L1637.1 623.6 L1640.2 619.2 L1643.4 614.9 L1646.5 610.6 L1649.6 606.4 L1652.7 602.3 L1655.9 598.2 L1659.0 594.2 L1662.1 590.2 L1665.3 586.2 L1668.4 582.4 L1671.5 578.5 L1674.7 574.8 L1677.8 571.1 L1680.9 567.4 L1684.1 563.9 L1687.2 560.3 L1690.3 556.9 L1693.4 553.5 L1696.6 550.1 L1699.7 546.9 L1702.8 543.7 L1706.0 540.5 L1709.1 537.4 L1712.2 534.4 L1715.4 531.5 L1718.5 528.6 L1721.6 525.8 L1724.8 523.0 L1727.9 520.3 L1731.0 517.7 L1734.1 515.2 L1737.3 512.7 L1740.4 510.3 L1743.5 507.9 L1746.7 505.7 L1749.8 503.5 L1752.9 501.3 L1756.1 499.3 L1759.2 497.3 L1762.3 495.4 L1765.4 493.5 L1768.6 491.8 L1771.7 490.1 L1774.8 488.5 L1778.0 486.9 L1781.1 485.4 L1784.2 484.1 L1787.4 482.7 L1790.5 481.5 L1793.6 480.3 L1796.8 479.2 L1799.9 478.2 L1803.0 477.2 L1806.1 476.4 L1809.3 475.6 L1812.4 474.8 L1815.5 474.2 L1818.7 473.6 L1821.8 473.1 L1824.9 472.7 L1828.1 472.4 L1831.2 472.1 L1834.3 471.9 L1837.5 471.8 L1840.6 471.8 L1843.7 471.9 L1846.8 472.0 L1850.0 472.2 L1853.1 472.4 L1856.2 472.8 L1859.4 473.2 L1862.5 473.7 L1865.6 474.3 L1868.8 475.0 L1871.9 475.7 L1875.0 476.5 L1878.2 477.4 L1881.3 478.4 L1884.4 479.4 L1887.5 480.5 L1890.7 481.7 L1893.8 483.0 L1896.9 484.3 L1900.1 485.7 L1903.2 487.2 L1906.3 488.7 L1909.5 490.4 L1912.6 492.1 L1915.7 493.9 L1918.8 495.7 L1922.0 497.6 L1925.1 499.6 L1928.2 501.7 L1931.4 503.8 L1934.5 506.0 L1937.6 508.3 L1940.8 510.7 L1943.9 513.1 L1947.0 515.6 L1950.2 518.2 L1953.3 520.8 L1956.4 523.5 L1959.5 526.2 L1962.7 529.1 L1965.8 532.0 L1968.9 534.9 L1972.1 538.0 L1975.2 541.0 L1978.3 544.2 L1981.5 547.4 L1984.6 550.7 L1987.7 554.1 L1990.9 557.5 L1994.0 560.9 L1997.1 564.5 L2000.2 568.1 L2003.4 571.7 L2006.5 575.4 L2009.6 579.2 L2012.8 583.0 L2015.9 586.9 L2019.0 590.9 L2022.2 594.8 L2025.3 598.9 L2028.4 603.0 L2031.6 607.2 L2034.7 611.4 L2037.8 615.6 L2040.9 620.0 L2044.1 624.3 L2047.2 628.7 L2050.3 633.2 L2053.5 637.7 L2056.6 642.3 L2059.7 646.9 L2062.9 651.5 L2066.0 656.2 L2069.1 661.0 L2072.3 665.7 L2075.4 670.6 L2078.5 675.4 L2081.6 680.3 L2084.8 685.3 L2087.9 690.3 L2091.0 695.3 L2094.2 700.4 L2097.3 705.5 L2100.4 710.6 L2103.6 715.8 L2106.7 721.0 L2109.8 726.2 L2112.9 731.5 L2116.1 736.8 L2119.2 742.1 L2122.3 747.4 L2125.5 752.8 L2128.6 758.2 L2131.7 763.7 L2134.9 769.1 L2138.0 774.6 L2141.1 780.1 L2144.3 785.7 L2147.4 791.2 L2150.5 796.8 L2153.6 802.4 L2156.8 808.0 L2159.9 813.6 L2163.0 819.2 L2166.2 824.9 L2169.3 830.6 L2172.4 836.3 L2175.6 841.9 L2178.7 847.7 L2181.8 853.4 L2185.0 859.1 L2188.1 864.8 L2191.2 870.6 L2194.3 876.3 L2197.5 882.1 L2200.6 887.8 L2203.7 893.6 L2206.9 899.4 L2210.0 905.1" stroke="#EDB120"/>
<path d="M269.0 470.6 L270.6 470.6 L272.1 470.6 L273.7 470.6 L275.3 470.6 L276.8 470.6 L278.4 470.6 L280.0 470.6 L281.5 470.6 L283.1 470.6 L284.7 470.6 L286.2 470.6 L287.8 470.7 L289.3 470.7 L290.9 470.7 L292.5 470.7 L294.0 470.7 L295.6 470.8 L297.2 470.8 L298.7 470.8 L300.3 470.9 L301.9 470.9 L303.4 471.0 L305.0 471.0 L306.6 471.1 L308.1 471.2 L309.7 471.3 L311.3 471.4 L312.8 471.5 L314.4 471.6 L316.0 471.7 L317.5 471.8 L319.1 471.9 L320.7 472.1 L322.2 472.2 L323.8 472.4 L325.4 472.6 L326.9 472.8 L328.5 473.0 L330.0 473.2 L331.6 473.4 L333.2 473.6 L334.7 473.9 L336.3 474.1 L337.9 474.4 L339.4 474.7 L341.0 475.0 L342.6 475.3 L344.1 475.7 L345.7 476.0 L347.3 476.4 L348.8 476.7 L350.4 477.1 L352.0 477.5 L353.5 478.0 L355.1 478.4 L356.7 478.9 L358.2 479.4 L359.8 479.8 L361.4 480.4 L362.9 480.9 L364.5 481.4 L366.1 482.0 L367.6 482.6 L369.2 483.2 L370.7 483.8 L372.3 484.5 L373.9 485.1 L375.4 485.8 L377.0 486.5 L378.6 487.2 L380.1 488.0 L381.7 488.7 L383.3 489.5 L384.8 490.3 L386.4 491.1 L388.0 492.0 L389.5 492.9 L391.1 493.8 L392.7 494.7 L394.2 495.6 L395.8 496.6 L397.4 497.5 L398.9 498.5 L400.5 499.6 L402.1 500.6 L403.6 501.7 L405.2 502.8 L406.7 503.9 L408.3 505.0 L409.9 506.2 L411.4 507.4 L413.0 508.6 L414.6 509.8 L416.1 511.1 L417.7 512.3 L419.3 513.6 L420.8 515.0 L422.4 516.3 L424.0 517.7 L425.5 519.1 L427.1 520.5 L428.7 522.0 L430.2 523.4 L431.8 524.9 L433.4 526.5 L434.9 528.0 L436.5 529.6 L438.1 531.2 L439.6 532.8 L441.2 534.5 L442.8 536.2 L444.3 537.9 L445.9 539.6 L447.4 541.3 L449.0 543.1 L450.6 544.9 L452.1 546.8 L453.7 548.6 L455.3 550.5 L456.8 552.4 L458.4 554.4 L460.0 556.3 L461.5 558.3 L463.1 560.4 L464.7 562.4 L466.2 564.5 L467.8 566.6 L469.4 568.8 L470.9 570.9 L472.5 573.1 L474.1 575.3 L475.6 577.6 L477.2 579.9 L478.8 582.2 L480.3 584.5 L481.9 586.9 L483.4 589.3 L485.0 591.7 L486.6 594.2 L488.1 596.7 L489.7 599.2 L491.3 601.7 L492.8 604.3 L494.4 606.9 L496.0 609.5 L497.5 612.2 L499.1 614.9 L500.7 617.6 L502.2 620.4 L503.8 623.2 L505.4 626.0 L506.9 628.8 L508.5 631.7 L510.1 634.6 L511.6 637.5 L513.2 640.5 L514.8 643.4 L516.3 646.5 L517.9 649.5 L519.5 652.6 L521.0 655.7 L522.6 658.8 L524.1 661.9 L525.7 665.1 L527.3 668.3 L528.8 671.5 L530.4 674.8 L532.0 678.1 L533.5 681.4 L535.1 684.7 L536.7 688.0 L538.2 691.4 L539.8 694.8 L541.4 698.2 L542.9 701.7 L544.5 705.1 L546.1 708.6 L547.6 712.1 L549.2 715.6 L550.8 719.2 L552.3 722.7 L553.9 726.3 L555.5 729.9 L557.0 733.5 L558.6 737.1 L560.2 740.8 L561.7 744.4 L563.3 748.1 L564.8 751.8 L566.4 755.5 L568.0 759.2 L569.5 763.0 L571.1 766.7 L572.7 770.5 L574.2 774.2 L575.8 778.0 L577.4 781.8 L578.9 785.6 L580.5 789.4 L582.1 793.3 L583.6 797.1 L585.2 800.9 L586.8 804.8 L588.3 808.7 L589.9 812.5 L591.5 816.4 L593.0 820.3 L594.6 824.2 L596.2 828.1 L597.7 832.0 L599.3 835.9 L600.8 839.9 L602.4 843.8 L604.0 847.7 L605.5 851.7 L607.1 855.6 L608.7 859.5 L610.2 863.5 L611.8 867.4 L613.4 871.4 L614.9 875.4 L616.5 879.3 L618.1 883.3 L619.6 887.2 L621.2 891.2 L622.8 895.2 L624.3 899.2 L625.9 903.1 L627.5 907.1 L629.0 911.1 L630.6 915.0 L632.2 919.0 L633.7 923.0 L635.3 926.9 L636.9 930.9 L638.4 934.9 L640.0 938.8 L641.5 942.8 L643.1 946.7 L644.7 950.7 L647.8 958.6 L650.9 966.4 L654.1 974.3 L657.2 982.1 L660.3 989.9 L663.5 997.7 L666.6 1005.4 L669.7 1013.1 L672.9 1020.8 L676.0 1028.4 L679.1 1036.0 L682.2 1043.6 L685.4 1051.1 L688.5 1058.5 L691.6 1065.9 L694.8 1073.3 L697.9 1080.6 L701.0 1087.8 L704.2 1094.9 L707.3 1102.1 L710.4 1109.1 L713.6 1116.1 L716.7 1122.9 L719.8 1129.8 L722.9 1136.5 L726.1 1143.2 L729.2 1149.8 L732.3 1156.3 L735.5 1162.7 L738.6 1169.0 L741.7 1175.2 L744.9 1181.4 L748.0 1187.4 L751.1 1193.4 L754.2 1199.2 L757.4 1205.0 L760.5 1210.6 L763.6 1216.2 L766.8 1221.6 L769.9 1226.9 L773.0 1232.2 L776.2 1237.3 L779.3 1242.3 L782.4 1247.1 L785.6 1251.9 L788.7 1256.6 L791.8 1261.1 L794.9 1265.5 L798.1 1269.7 L801.2 1273.9 L804.3 1277.9 L807.5 1281.8 L810.6 1285.6 L813.7 1289.2 L816.9 1292.7 L820.0 1296.1 L823.1 1299.3 L826.3 1302.4 L829.4 1305.4 L832.5 1308.2 L835.6 1310.9 L838.8 1313.4 L841.9 1315.8 L845.0 1318.1 L848.2 1320.2 L851.3 1322.2 L854.4 1324.0 L857.6 1325.7 L860.7 1327.2 L863.8 1328.6 L867.0 1329.9 L870.1 1331.0 L873.2 1331.9 L876.3 1332.7 L879.5 1333.4 L882.6 1333.9 L885.7 1334.2 L888.9 1334.5 L892.0 1334.5 L895.1 1334.4 L898.3 1334.2 L901.4 1333.8 L904.5 1333.3 L907.7 1332.6 L910.8 1331.8 L913.9 1330.8 L917.0 1329.7 L920.2 1328.4 L923.3 1327.0 L926.4 1325.4 L929.6 1323.7 L932.7 1321.9 L935.8 1319.9 L939.0 1317.7 L942.1 1315.4 L945.2 1313.0 L948.4 1310.4 L951.5 1307.7 L954.6 1304.9 L957.7 1301.9 L960.9 1298.8 L964.0 1295.5 L967.1 1292.1 L970.3 1288.6 L973.4 1284.9 L976.5 1281.1 L979.7 1277.2 L982.8 1273.1 L985.9 1269.0 L989.0 1264.6 L992.2 1260.2 L995.3 1255.6 L998.4 1251.0 L1001.6 1246.2 L1004.7 1241.2 L1007.8 1236.2 L1011.0 1231.1 L1014.1 1225.8 L1017.2 1220.4 L1020.4 1214.9 L1023.5 1209.3 L1026.6 1203.6 L1029.7 1197.8 L1032.9 1191.9 L1036.0 1185.9 L1039.1 1179.8 L1042.3 1173.6 L1045.4 1167.3 L1048.5 1161.0 L1051.7 1154.5 L1054.8 1147.9 L1057.9 1141.3 L1061.1 1134.6 L1064.2 1127.8 L1067.3 1120.9 L1070.4 1113.9 L1073.6 1106.9 L1076.7 1099.8 L1079.8 1092.6 L1083.0 1085.4 L1086.1 1078.1 L1089.2 1070.8 L1092.4 1063.4 L1095.5 1055.9 L1098.6 1048.4 L1101.8 1040.8 L1104.9 1033.2 L1108.0 1025.5 L1111.1 1017.8 L1114.3 1010.1 L1117.4 1002.3 L1120.5 994.5 L1123.7 986.7 L1126.8 978.8 L1129.9 970.9 L1133.1 963.0 L1136.2 955.0 L1139.3 947.1 L1142.4 939.1 L1145.6 931.1 L1148.7 923.1 L1151.8 915.1 L1155.0 907.1 L1158.1 899.1 L1161.2 891.1 L1164.4 883.1 L1167.5 875.1 L1170.6 867.2 L1173.8 859.2 L1176.9 851.2 L1180.0 843.3 L1183.1 835.4 L1186.3 827.5 L1189.4 819.7 L1192.5 811.8 L1195.7 804.0 L1198.8 796.3 L1201.9 788.6 L1205.1 780.9 L1208.2 773.2 L1211.3 765.6 L1214.5 758.1 L1217.6 750.6 L1220.7 743.2 L1223.8 735.8 L1227.0 728.5 L1230.1 721.2 L1233.2 714.0 L1236.4 706.9 L1239.5 699.8 L1242.6 692.8 L1245.8 685.9 L1248.9 679.1 L1252.0 672.3 L1255.2 665.6 L1258.3 659.0 L1261.4 652.5 L1264.5 646.1 L1267.7 639.8 L1270.8 633.5 L1273.9 627.4 L1277.1 621.3 L1280.2 615.4 L1283.3 609.5 L1286.5 603.8 L1289.6 598.1 L1292.7 592.6 L1295.9 587.2 L1299.0 581.8 L1302.1 576.6 L1305.2 571.5 L1308.4 566.6 L1311.5 561.7 L1314.6 557.0 L1317.8 552.4 L1320.9 547.9 L1324.0 543.5 L1327.2 539.3 L1330.3 535.1 L1333.4 531.2 L1336.5 527.3 L1339.7 523.6 L1342.8 520.0 L1345.9 516.5 L1349.1 513.2 L1352.2 510.0 L1355.3 507.0 L1358.5 504.1 L1361.6 501.3 L1364.7 498.7 L1367.9 496.2 L1371.0 493.8 L1374.1 491.6 L1377.2 489.6 L1380.4 487.7 L1383.5 485.9 L1386.6 484.3 L1389.8 482.8 L1392.9 481.5 L1396.0 480.3 L1399.2 479.2 L1402.3 478.4 L1405.4 477.6 L1408.6 477.0 L1411.7 476.6 L1414.8 476.3 L1417.9 476.2 L1421.1 476.2 L1424.2 476.3 L1427.3 476.6 L1430.5 477.1 L1433.6 477.7 L1436.7 478.5 L1439.9 479.4 L1443.0 480.4 L1446.1 481.6 L1449.3 482.9 L1452.4 484.4 L1455.5 486.1 L1458.6 487.9 L1461.8 489.8 L1464.9 491.9 L1468.0 494.1 L1471.2 496.5 L1474.3 499.0 L1477.4 501.6 L1480.6 504.4 L1483.7 507.3 L1486.8 510.4 L1490.0 513.6 L1493.1 516.9 L1496.2 520.4 L1499.3 524.0 L1502.5 527.7 L1505.6 531.6 L1508.7 535.6 L1511.9 539.7 L1515.0 544.0 L1518.1 548.4 L1521.3 552.9 L1524.4 557.5 L1527.5 562.3 L1530.6 567.1 L1533.8 572.1 L1536.9 577.2 L1540.0 582.5 L1543.2 587.8 L1546.3 593.2 L1549.4 598.8 L1552.6 604.4 L1555.7 610.2 L1558.8 616.1 L1562.0 622.0 L1565.1 628.1 L1568.2 634.2 L1571.3 640.5 L1574.5 646.8 L1577.6 653.3 L1580.7 659.8 L1583.9 666.4 L1587.0 673.1 L1590.1 679.9 L1593.3 686.7 L1596.4 693.6 L1599.5 700.6 L1602.7 707.7 L1605.8 714.9 L1608.9 722.1 L1612.0 729.3 L1615.2 736.7 L1618.3 744.1 L1621.4 751.5 L1624.6 759.0 L1627.7 766.5 L1630.8 774.1 L1634.0 781.8 L1637.1 789.5 L1640.2 797.2 L1643.4 805.0 L1646.5 812.8 L1649.6 820.6 L1652.7 828.5 L1655.9 836.4 L1659.0 844.3 L1662.1 852.2 L1665.3 860.1 L1668.4 868.1 L1671.5 876.1 L1674.7 884.1 L1677.8 892.1 L1680.9 900.1 L1684.1 908.1 L1687.2 916.1 L1690.3 924.1 L1693.4 932.1 L1696.6 940.1 L1699.7 948.0 L1702.8 956.0 L1706.0 963.9 L1709.1 971.9 L1712.2 979.7 L1715.4 987.6 L1718.5 995.5 L1721.6 1003.3 L1724.8 1011.0 L1727.9 1018.8 L1731.0 1026.5 L1734.1 1034.1 L1737.3 1041.7 L1740.4 1049.3 L1743.5 1056.8 L1746.7 1064.3 L1749.8 1071.7 L1752.9 1079.0 L1756.1 1086.3 L1759.2 1093.5 L1762.3 1100.7 L1765.4 1107.8 L1768.6 1114.8 L1771.7 1121.7 L1774.8 1128.6 L1778.0 1135.4 L1781.1 1142.1 L1784.2 1148.8 L1787.4 1155.3 L1790.5 1161.8 L1793.6 1168.1 L1796.8 1174.4 L1799.9 1180.6 L1803.0 1186.7 L1806.1 1192.7 L1809.3 1198.6 L1812.4 1204.3 L1815.5 1210.0 L1818.7 1215.6 L1821.8 1221.1 L1824.9 1226.4 L1828.1 1231.7 L1831.2 1236.8 L1834.3 1241.8 L1837.5 1246.7 L1840.6 1251.5 L1843.7 1256.2 L1846.8 1260.7 L1850.0 1265.1 L1853.1 1269.4 L1856.2 1273.6 L1859.4 1277.6 L1862.5 1281.5 L1865.6 1285.3 L1868.8 1288.9 L1871.9 1292.4 L1875.0 1295.8 L1878.2 1299.1 L1881.3 1302.2 L1884.4 1305.1 L1887.5 1307.9 L1890.7 1310.6 L1893.8 1313.2 L1896.9 1315.6 L1900.1 1317.8 L1903.2 1319.9 L1906.3 1321.9 L1909.5 1323.7 L1912.6 1325.4 L1915.7 1326.9 L1918.8 1328.3 L1922.0 1329.5 L1925.1 1330.6 L1928.2 1331.6 L1931.4 1332.4 L1934.5 1333.0 L1937.6 1333.5 L1940.8 1333.9 L1943.9 1334.1 L1947.0 1334.1 L1950.2 1334.0 L1953.3 1333.7 L1956.4 1333.3 L1959.5 1332.8 L1962.7 1332.1 L1965.8 1331.2 L1968.9 1330.3 L1972.1 1329.1 L1975.2 1327.8 L1978.3 1326.4 L1981.5 1324.8 L1984.6 1323.1 L1987.7 1321.2 L1990.9 1319.2 L1994.0 1317.0 L1997.1 1314.7 L2000.2 1312.2 L2003.4 1309.6 L2006.5 1306.9 L2009.6 1304.0 L2012.8 1301.0 L2015.9 1297.9 L2019.0 1294.6 L2022.2 1291.2 L2025.3 1287.6 L2028.4 1283.9 L2031.6 1280.1 L2034.7 1276.1 L2037.8 1272.1 L2040.9 1267.8 L2044.1 1263.5 L2047.2 1259.0 L2050.3 1254.5 L2053.5 1249.8 L2056.6 1244.9 L2059.7 1240.0 L2062.9 1234.9 L2066.0 1229.7 L2069.1 1224.5 L2072.3 1219.1 L2075.4 1213.6 L2078.5 1207.9 L2081.6 1202.2 L2084.8 1196.4 L2087.9 1190.5 L2091.0 1184.4 L2094.2 1178.3 L2097.3 1172.1 L2100.4 1165.8 L2103.6 1159.4 L2106.7 1152.9 L2109.8 1146.3 L2112.9 1139.7 L2116.1 1132.9 L2119.2 1126.1 L2122.3 1119.2 L2125.5 1112.2 L2128.6 1105.2 L2131.7 1098.1 L2134.9 1090.9 L2138.0 1083.6 L2141.1 1076.3 L2144.3 1068.9 L2147.4 1061.5 L2150.5 1054.0 L2153.6 1046.5 L2156.8 1038.9 L2159.9 1031.3 L2163.0 1023.6 L2166.2 1015.9 L2169.3 1008.2 L2172.4 1000.4 L2175.6 992.6 L2178.7 984.7 L2181.8 976.8 L2185.0 968.9 L2188.1 961.0 L2191.2 953.1 L2194.3 945.1 L2197.5 937.1 L2200.6 929.1 L2203.7 921.1 L2206.9 913.1 L2210.0 905.1" stroke="#7E2F8E"/>
<path d="M269.0 470.6 L270.6 470.6 L272.1 470.6 L273.7 470.6 L275.3 470.6 L276.8 470.6 L278.4 470.6 L280.0 470.6 L281.5 470.6 L283.1 470.6 L284.7 470.7 L286.2 470.7 L287.8 470.7 L289.3 470.7 L290.9 470.7 L292.5 470.8 L294.0 470.8 L295.6 470.9 L297.2 470.9 L298.7 471.0 L300.3 471.1 L301.9 471.1 L303.4 471.2 L305.0 471.3 L306.6 471.4 L308.1 471.6 L309.7 471.7 L311.3 471.9 L312.8 472.0 L314.4 472.2 L316.0 472.4 L317.5 472.6 L319.1 472.8 L320.7 473.1 L322.2 473.3 L323.8 473.6 L325.4 473.9 L326.9 474.2 L328.5 474.5 L330.0 474.9 L331.6 475.2 L333.2 475.6 L334.7 476.0 L336.3 476.5 L337.9 476.9 L339.4 477.4 L341.0 477.9 L342.6 478.4 L344.1 479.0 L345.7 479.5 L347.3 480.1 L348.8 480.8 L350.4 481.4 L352.0 482.1 L353.5 482.8 L355.1 483.5 L356.7 484.3 L358.2 485.1 L359.8 485.9 L361.4 486.7 L362.9 487.6 L364.5 488.5 L366.1 489.4 L367.6 490.4 L369.2 491.4 L370.7 492.4 L372.3 493.5 L373.9 494.6 L375.4 495.7 L377.0 496.8 L378.6 498.0 L380.1 499.2 L381.7 500.5 L383.3 501.8 L384.8 503.1 L386.4 504.4 L388.0 505.8 L389.5 507.3 L391.1 508.7 L392.7 510.2 L394.2 511.7 L395.8 513.3 L397.4 514.9 L398.9 516.5 L400.5 518.2 L402.1 519.9 L403.6 521.6 L405.2 523.4 L406.7 525.2 L408.3 527.1 L409.9 528.9 L411.4 530.9 L413.0 532.8 L414.6 534.8 L416.1 536.9 L417.7 538.9 L419.3 541.0 L420.8 543.2 L422.4 545.4 L424.0 547.6 L425.5 549.8 L427.1 552.1 L428.7 554.4 L430.2 556.8 L431.8 559.2 L433.4 561.7 L434.9 564.1 L436.5 566.7 L438.1 569.2 L439.6 571.8 L441.2 574.5 L442.8 577.1 L444.3 579.8 L445.9 582.6 L447.4 585.4 L449.0 588.2 L450.6 591.1 L452.1 594.0 L453.7 596.9 L455.3 599.9 L456.8 602.9 L458.4 606.0 L460.0 609.1 L461.5 612.2 L463.1 615.4 L464.7 618.6 L466.2 621.8 L467.8 625.1 L469.4 628.4 L470.9 631.8 L472.5 635.2 L474.1 638.7 L475.6 642.1 L477.2 645.7 L478.8 649.2 L480.3 652.8 L481.9 656.4 L483.4 660.1 L485.0 663.8 L486.6 667.6 L488.1 671.4 L489.7 675.2 L491.3 679.1 L492.8 682.9 L494.4 686.9 L496.0 690.9 L497.5 694.9 L499.1 698.9 L500.7 703.0 L502.2 707.1 L503.8 711.2 L505.4 715.4 L506.9 719.6 L508.5 723.9 L510.1 728.1 L511.6 732.4 L513.2 736.8 L514.8 741.1 L516.3 745.5 L517.9 750.0 L519.5 754.4 L521.0 758.9 L522.6 763.4 L524.1 767.9 L525.7 772.5 L527.3 777.1 L528.8 781.7 L530.4 786.3 L532.0 790.9 L533.5 795.6 L535.1 800.3 L536.7 805.0 L538.2 809.7 L539.8 814.4 L541.4 819.2 L542.9 824.0 L544.5 828.7 L546.1 833.5 L547.6 838.3 L549.2 843.2 L550.8 848.0 L552.3 852.8 L553.9 857.7 L555.5 862.5 L557.0 867.4 L558.6 872.3 L560.2 877.1 L561.7 882.0 L563.3 886.9 L564.8 891.8 L566.4 896.7 L568.0 901.6 L569.5 906.4 L571.1 911.3 L572.7 916.2 L574.2 921.1 L575.8 926.0 L577.4 930.9 L578.9 935.8 L580.5 940.6 L582.1 945.5 L583.6 950.3 L585.2 955.2 L586.8 960.0 L588.3 964.9 L589.9 969.7 L591.5 974.5 L593.0 979.3 L594.6 984.1 L596.2 988.9 L597.7 993.7 L599.3 998.5 L600.8 1003.2 L602.4 1008.0 L604.0 1012.7 L605.5 1017.4 L607.1 1022.1 L608.7 1026.8 L610.2 1031.4 L611.8 1036.1 L613.4 1040.7 L614.9 1045.3 L616.5 1049.9 L618.1 1054.4 L619.6 1059.0 L621.2 1063.5 L622.8 1068.0 L624.3 1072.5 L625.9 1076.9 L627.5 1081.4 L629.0 1085.8 L630.6 1090.2 L632.2 1094.5 L633.7 1098.8 L635.3 1103.1 L636.9 1107.4 L638.4 1111.7 L640.0 1115.9 L641.5 1120.1 L643.1 1124.2 L644.7 1128.4 L647.8 1136.5 L650.9 1144.6 L654.1 1152.5 L657.2 1160.2 L660.3 1167.9 L663.5 1175.3 L666.6 1182.7 L669.7 1189.8 L672.9 1196.9 L676.0 1203.7 L679.1 1210.4 L682.2 1216.9 L685.4 1223.2 L688.5 1229.4 L691.6 1235.4 L694.8 1241.2 L697.9 1246.8 L701.0 1252.2 L704.2 1257.4 L707.3 1262.4 L710.4 1267.3 L713.6 1271.9 L716.7 1276.3 L719.8 1280.5 L722.9 1284.5 L726.1 1288.2 L729.2 1291.8 L732.3 1295.1 L735.5 1298.2 L738.6 1301.1 L741.7 1303.8 L744.9 1306.3 L748.0 1308.5 L751.1 1310.5 L754.2 1312.2 L757.4 1313.7 L760.5 1315.0 L763.6 1316.1 L766.8 1316.9 L769.9 1317.5 L773.0 1317.9 L776.2 1318.0 L779.3 1317.9 L782.4 1317.5 L785.6 1317.0 L788.7 1316.2 L791.8 1315.1 L794.9 1313.8 L798.1 1312.3 L801.2 1310.6 L804.3 1308.6 L807.5 1306.4 L810.6 1303.9 L813.7 1301.3 L816.9 1298.4 L820.0 1295.2 L823.1 1291.9 L826.3 1288.3 L829.4 1284.6 L832.5 1280.6 L835.6 1276.4 L838.8 1271.9 L841.9 1267.3 L845.0 1262.4 L848.2 1257.4 L851.3 1252.1 L854.4 1246.7 L857.6 1241.1 L860.7 1235.2 L863.8 1229.2 L867.0 1223.0 L870.1 1216.6 L873.2 1210.0 L876.3 1203.3 L879.5 1196.4 L882.6 1189.3 L885.7 1182.0 L888.9 1174.6 L892.0 1167.0 L895.1 1159.3 L898.3 1151.5 L901.4 1143.5 L904.5 1135.3 L907.7 1127.1 L910.8 1118.7 L913.9 1110.2 L917.0 1101.5 L920.2 1092.8 L923.3 1083.9 L926.4 1074.9 L929.6 1065.9 L932.7 1056.7 L935.8 1047.5 L939.0 1038.2 L942.1 1028.8 L945.2 1019.3 L948.4 1009.8 L951.5 1000.2 L954.6 990.5 L957.7 980.8 L960.9 971.1 L964.0 961.3 L967.1 951.5 L970.3 941.7 L973.4 931.8 L976.5 921.9 L979.7 912.1 L982.8 902.2 L985.9 892.3 L989.0 882.4 L992.2 872.5 L995.3 862.7 L998.4 852.9 L1001.6 843.1 L1004.7 833.3 L1007.8 823.6 L1011.0 813.9 L1014.1 804.3 L1017.2 794.8 L1020.4 785.3 L1023.5 775.9 L1026.6 766.5 L1029.7 757.2 L1032.9 748.0 L1036.0 739.0 L1039.1 730.0 L1042.3 721.1 L1045.4 712.3 L1048.5 703.6 L1051.7 695.0 L1054.8 686.6 L1057.9 678.3 L1061.1 670.1 L1064.2 662.0 L1067.3 654.1 L1070.4 646.3 L1073.6 638.7 L1076.7 631.3 L1079.8 624.0 L1083.0 616.8 L1086.1 609.8 L1089.2 603.0 L1092.4 596.4 L1095.5 589.9 L1098.6 583.7 L1101.8 577.6 L1104.9 571.7 L1108.0 566.0 L1111.1 560.5 L1114.3 555.1 L1117.4 550.0 L1120.5 545.1 L1123.7 540.4 L1126.8 535.9 L1129.9 531.7 L1133.1 527.6 L1136.2 523.8 L1139.3 520.1 L1142.4 516.7 L1145.6 513.6 L1148.7 510.6 L1151.8 507.9 L1155.0 505.4 L1158.1 503.1 L1161.2 501.1 L1164.4 499.3 L1167.5 497.8 L1170.6 496.4 L1173.8 495.3 L1176.9 494.5 L1180.0 493.9 L1183.1 493.5 L1186.3 493.3 L1189.4 493.4 L1192.5 493.8 L1195.7 494.3 L1198.8 495.1 L1201.9 496.2 L1205.1 497.4 L1208.2 499.0 L1211.3 500.7 L1214.5 502.7 L1217.6 504.9 L1220.7 507.3 L1223.8 510.0 L1227.0 512.9 L1230.1 516.0 L1233.2 519.4 L1236.4 523.0 L1239.5 526.8 L1242.6 530.8 L1245.8 535.0 L1248.9 539.4 L1252.0 544.1 L1255.2 549.0 L1258.3 554.0 L1261.4 559.3 L1264.5 564.8 L1267.7 570.4 L1270.8 576.3 L1273.9 582.3 L1277.1 588.6 L1280.2 595.0 L1283.3 601.6 L1286.5 608.4 L1289.6 615.3 L1292.7 622.4 L1295.9 629.7 L1299.0 637.1 L1302.1 644.7 L1305.2 652.5 L1308.4 660.3 L1311.5 668.4 L1314.6 676.5 L1317.8 684.8 L1320.9 693.2 L1324.0 701.8 L1327.2 710.5 L1330.3 719.2 L1333.4 728.1 L1336.5 737.1 L1339.7 746.2 L1342.8 755.3 L1345.9 764.6 L1349.1 773.9 L1352.2 783.3 L1355.3 792.8 L1358.5 802.4 L1361.6 812.0 L1364.7 821.7 L1367.9 831.4 L1371.0 841.1 L1374.1 850.9 L1377.2 860.7 L1380.4 870.6 L1383.5 880.4 L1386.6 890.3 L1389.8 900.2 L1392.9 910.1 L1396.0 920.0 L1399.2 929.9 L1402.3 939.7 L1405.4 949.6 L1408.6 959.4 L1411.7 969.2 L1414.8 979.0 L1417.9 988.7 L1421.1 998.3 L1424.2 1007.9 L1427.3 1017.5 L1430.5 1027.0 L1433.6 1036.4 L1436.7 1045.7 L1439.9 1055.0 L1443.0 1064.2 L1446.1 1073.2 L1449.3 1082.2 L1452.4 1091.1 L1455.5 1099.9 L1458.6 1108.5 L1461.8 1117.1 L1464.9 1125.5 L1468.0 1133.8 L1471.2 1141.9 L1474.3 1150.0 L1477.4 1157.9 L1480.6 1165.6 L1483.7 1173.2 L1486.8 1180.6 L1490.0 1187.9 L1493.1 1195.0 L1496.2 1201.9 L1499.3 1208.7 L1502.5 1215.3 L1505.6 1221.7 L1508.7 1227.9 L1511.9 1234.0 L1515.0 1239.9 L1518.1 1245.5 L1521.3 1251.0 L1524.4 1256.3 L1527.5 1261.3 L1530.6 1266.2 L1533.8 1270.8 L1536.9 1275.3 L1540.0 1279.5 L1543.2 1283.5 L1546.3 1287.3 L1549.4 1290.9 L1552.6 1294.2 L1555.7 1297.3 L1558.8 1300.2 L1562.0 1302.9 L1565.1 1305.4 L1568.2 1307.6 L1571.3 1309.5 L1574.5 1311.3 L1577.6 1312.8 L1580.7 1314.1 L1583.9 1315.1 L1587.0 1315.9 L1590.1 1316.5 L1593.3 1316.8 L1596.4 1316.9 L1599.5 1316.7 L1602.7 1316.3 L1605.8 1315.7 L1608.9 1314.9 L1612.0 1313.8 L1615.2 1312.4 L1618.3 1310.9 L1621.4 1309.1 L1624.6 1307.0 L1627.7 1304.8 L1630.8 1302.3 L1634.0 1299.5 L1637.1 1296.6 L1640.2 1293.4 L1643.4 1290.0 L1646.5 1286.4 L1649.6 1282.5 L1652.7 1278.4 L1655.9 1274.2 L1659.0 1269.7 L1662.1 1265.0 L1665.3 1260.1 L1668.4 1254.9 L1671.5 1249.6 L1674.7 1244.1 L1677.8 1238.4 L1680.9 1232.5 L1684.1 1226.4 L1687.2 1220.1 L1690.3 1213.6 L1693.4 1207.0 L1696.6 1200.2 L1699.7 1193.2 L1702.8 1186.0 L1706.0 1178.7 L1709.1 1171.3 L1712.2 1163.6 L1715.4 1155.9 L1718.5 1147.9 L1721.6 1139.9 L1724.8 1131.7 L1727.9 1123.4 L1731.0 1114.9 L1734.1 1106.3 L1737.3 1097.7 L1740.4 1088.9 L1743.5 1079.9 L1746.7 1070.9 L1749.8 1061.8 L1752.9 1052.6 L1756.1 1043.4 L1759.2 1034.0 L1762.3 1024.6 L1765.4 1015.1 L1768.6 1005.5 L1771.7 995.9 L1774.8 986.2 L1778.0 976.5 L1781.1 966.7 L1784.2 956.9 L1787.4 947.1 L1790.5 937.2 L1793.6 927.4 L1796.8 917.5 L1799.9 907.6 L1803.0 897.7 L1806.1 887.8 L1809.3 877.9 L1812.4 868.1 L1815.5 858.2 L1818.7 848.4 L1821.8 838.6 L1824.9 828.9 L1828.1 819.2 L1831.2 809.5 L1834.3 799.9 L1837.5 790.4 L1840.6 780.9 L1843.7 771.5 L1846.8 762.2 L1850.0 753.0 L1853.1 743.8 L1856.2 734.8 L1859.4 725.8 L1862.5 717.0 L1865.6 708.2 L1868.8 699.6 L1871.9 691.1 L1875.0 682.7 L1878.2 674.4 L1881.3 666.3 L1884.4 658.3 L1887.5 650.5 L1890.7 642.8 L1893.8 635.2 L1896.9 627.8 L1900.1 620.6 L1903.2 613.5 L1906.3 606.6 L1909.5 599.9 L1912.6 593.4 L1915.7 587.0 L1918.8 580.8 L1922.0 574.8 L1925.1 569.0 L1928.2 563.4 L1931.4 557.9 L1934.5 552.7 L1937.6 547.7 L1940.8 542.9 L1943.9 538.3 L1947.0 533.9 L1950.2 529.7 L1953.3 525.8 L1956.4 522.1 L1959.5 518.5 L1962.7 515.2 L1965.8 512.2 L1968.9 509.3 L1972.1 506.7 L1975.2 504.3 L1978.3 502.2 L1981.5 500.3 L1984.6 498.6 L1987.7 497.1 L1990.9 495.9 L1994.0 494.9 L1997.1 494.2 L2000.2 493.7 L2003.4 493.4 L2006.5 493.4 L2009.6 493.6 L2012.8 494.0 L2015.9 494.7 L2019.0 495.6 L2022.2 496.8 L2025.3 498.2 L2028.4 499.8 L2031.6 501.7 L2034.7 503.8 L2037.8 506.1 L2040.9 508.7 L2044.1 511.4 L2047.2 514.5 L2050.3 517.7 L2053.5 521.2 L2056.6 524.8 L2059.7 528.7 L2062.9 532.9 L2066.0 537.2 L2069.1 541.7 L2072.3 546.5 L2075.4 551.5 L2078.5 556.6 L2081.6 562.0 L2084.8 567.6 L2087.9 573.3 L2091.0 579.3 L2094.2 585.4 L2097.3 591.7 L2100.4 598.3 L2103.6 604.9 L2106.7 611.8 L2109.8 618.8 L2112.9 626.0 L2116.1 633.4 L2119.2 640.9 L2122.3 648.5 L2125.5 656.4 L2128.6 664.3 L2131.7 672.4 L2134.9 680.6 L2138.0 689.0 L2141.1 697.5 L2144.3 706.1 L2147.4 714.8 L2150.5 723.6 L2153.6 732.5 L2156.8 741.6 L2159.9 750.7 L2163.0 759.9 L2166.2 769.2 L2169.3 778.6 L2172.4 788.0 L2175.6 797.6 L2178.7 807.1 L2181.8 816.8 L2185.0 826.5 L2188.1 836.2 L2191.2 846.0 L2194.3 855.8 L2197.5 865.6 L2200.6 875.5 L2203.7 885.3 L2206.9 895.2 L2210.0 905.1" stroke="#77AC30"/></g>
<g class="leg"><rect class="lg" x="1799" y="36.1" width="411" height="385"/>
<path d="M1816.2 81.0H1995.9" stroke="#0072BD"/>
<text class="le" x="2008.3" y="104.3" textLength="181.8" lengthAdjust="spacingAndGlyphs">Mode 1</text>
<path d="M1816.2 154.9H1995.9" stroke="#D95319"/>
<text class="le" x="2008.3" y="178.3" textLength="181.8" lengthAdjust="spacingAndGlyphs">Mode 2</text>
<path d="M1816.2 228.8H1995.9" stroke="#EDB120"/>
<text class="le" x="2008.3" y="252.2" textLength="181.8" lengthAdjust="spacingAndGlyphs">Mode 3</text>
<path d="M1816.2 302.7H1995.9" stroke="#7E2F8E"/>
<text class="le" x="2008.3" y="326.1" textLength="181.8" lengthAdjust="spacingAndGlyphs">Mode 4</text>
<path d="M1816.2 376.6H1995.9" stroke="#77AC30"/>
<text class="le" x="2008.3" y="399.9" textLength="181.8" lengthAdjust="spacingAndGlyphs">Mode 5</text></g>
<path class="ax" d="M271.0 3319.0V3298.0M271.0 1800.1V1821.1M583.7 3319.0V3298.0M583.7 1800.1V1821.1M896.5 3319.0V3298.0M896.5 1800.1V1821.1M1209.2 3319.0V3298.0M1209.2 1800.1V1821.1M1522.0 3319.0V3298.0M1522.0 1800.1V1821.1M1834.7 3319.0V3298.0M1834.7 1800.1V1821.1M2147.5 3319.0V3298.0M2147.5 1800.1V1821.1M271.0 3319.0H292.0M2210.0 3319.0H2189.0M271.0 3102.0H292.0M2210.0 3102.0H2189.0M271.0 2885.0H292.0M2210.0 2885.0H2189.0M271.0 2668.0H292.0M2210.0 2668.0H2189.0M271.0 2451.1H292.0M2210.0 2451.1H2189.0M271.0 2234.1H292.0M2210.0 2234.1H2189.0M271.0 2017.1H292.0M2210.0 2017.1H2189.0M271.0 1800.1H292.0M2210.0 1800.1H2189.0"/>
<rect class="ax" x="271.0" y="1800.1" width="1939.0" height="1518.9"/>
<text class="tk" x="271.0" y="3406.2" text-anchor="middle">0</text>
<text class="tk" x="583.7" y="3406.2" text-anchor="middle">5</text>
<text class="tk" x="896.5" y="3406.2" text-anchor="middle">10</text>
<text class="tk" x="1209.2" y="3406.2" text-anchor="middle">15</text>
<text class="tk" x="1522.0" y="3406.2" text-anchor="middle">20</text>
<text class="tk" x="1834.7" y="3406.2" text-anchor="middle">25</text>
<text class="tk" x="2147.5" y="3406.2" text-anchor="middle">30</text>
<text class="tk" x="245.5" y="3344.0" text-anchor="end">-1.5</text>
<text class="tk" x="245.5" y="3127.0" text-anchor="end">-1</text>
<text class="tk" x="245.5" y="2910.0" text-anchor="end">-0.5</text>
<text class="tk" x="245.5" y="2693.0" text-anchor="end">0</text>
<text class="tk" x="245.5" y="2476.1" text-anchor="end">0.5</text>
<text class="tk" x="245.5" y="2259.1" text-anchor="end">1</text>
<text class="tk" x="245.5" y="2042.1" text-anchor="end">1.5</text>
<text class="tk" x="245.5" y="1825.1" text-anchor="end">2</text>
<text class="mi" x="1217.4" y="3505.7" style="font-size:95.4px" textLength="45.9" lengthAdjust="spacingAndGlyphs">x</text>
<g class="cv"><path d="M271.0 2668.0 L272.6 2667.8 L274.1 2667.3 L275.7 2666.5 L277.3 2665.4 L278.8 2664.1 L280.4 2662.7 L281.9 2661.0 L283.5 2659.2 L285.1 2657.2 L286.6 2655.0 L288.2 2652.6 L289.8 2650.1 L291.3 2647.5 L292.9 2644.7 L294.5 2641.8 L296.0 2638.7 L297.6 2635.6 L299.1 2632.3 L300.7 2628.9 L302.3 2625.4 L303.8 2621.8 L305.4 2618.1 L307.0 2614.3 L308.5 2610.4 L310.1 2606.4 L311.7 2602.3 L313.2 2598.2 L314.8 2594.0 L316.3 2589.7 L317.9 2585.4 L319.5 2581.1 L321.0 2576.6 L322.6 2572.1 L324.2 2567.6 L325.7 2563.1 L327.3 2558.5 L328.9 2553.8 L330.4 2549.2 L332.0 2544.5 L333.5 2539.8 L335.1 2535.1 L336.7 2530.4 L338.2 2525.6 L339.8 2520.9 L341.4 2516.1 L342.9 2511.4 L344.5 2506.6 L346.1 2501.9 L347.6 2497.2 L349.2 2492.4 L350.7 2487.7 L352.3 2483.0 L353.9 2478.4 L355.4 2473.7 L357.0 2469.1 L358.6 2464.5 L360.1 2459.9 L361.7 2455.3 L363.3 2450.8 L364.8 2446.3 L366.4 2441.9 L367.9 2437.5 L369.5 2433.1 L371.1 2428.8 L372.6 2424.5 L374.2 2420.2 L375.8 2416.0 L377.3 2411.9 L378.9 2407.8 L380.5 2403.7 L382.0 2399.7 L383.6 2395.7 L385.2 2391.8 L386.7 2387.9 L388.3 2384.1 L389.8 2380.3 L391.4 2376.6 L393.0 2373.0 L394.5 2369.4 L396.1 2365.8 L397.7 2362.3 L399.2 2358.9 L400.8 2355.5 L402.4 2352.2 L403.9 2348.9 L405.5 2345.7 L407.0 2342.5 L408.6 2339.4 L410.2 2336.3 L411.7 2333.3 L413.3 2330.4 L414.9 2327.5 L416.4 2324.7 L418.0 2321.9 L419.6 2319.2 L421.1 2316.5 L422.7 2313.9 L424.2 2311.3 L425.8 2308.8 L427.4 2306.3 L428.9 2303.9 L430.5 2301.6 L432.1 2299.3 L433.6 2297.0 L435.2 2294.8 L436.8 2292.6 L438.3 2290.5 L439.9 2288.5 L441.4 2286.5 L443.0 2284.5 L444.6 2282.6 L446.1 2280.7 L447.7 2278.9 L449.3 2277.1 L450.8 2275.4 L452.4 2273.7 L454.0 2272.1 L455.5 2270.5 L457.1 2268.9 L458.6 2267.4 L460.2 2266.0 L461.8 2264.5 L463.3 2263.1 L464.9 2261.8 L466.5 2260.5 L468.0 2259.2 L469.6 2258.0 L471.2 2256.8 L472.7 2255.6 L474.3 2254.5 L475.8 2253.4 L477.4 2252.4 L479.0 2251.4 L480.5 2250.4 L482.1 2249.5 L483.7 2248.6 L485.2 2247.7 L486.8 2246.8 L488.4 2246.0 L489.9 2245.3 L491.5 2244.5 L493.0 2243.8 L494.6 2243.1 L496.2 2242.4 L497.7 2241.8 L499.3 2241.2 L500.9 2240.6 L502.4 2240.1 L504.0 2239.6 L505.6 2239.1 L507.1 2238.6 L508.7 2238.2 L510.2 2237.8 L511.8 2237.4 L513.4 2237.0 L514.9 2236.7 L516.5 2236.4 L518.1 2236.1 L519.6 2235.8 L521.2 2235.5 L522.8 2235.3 L524.3 2235.1 L525.9 2234.9 L527.4 2234.7 L529.0 2234.6 L530.6 2234.5 L532.1 2234.4 L533.7 2234.3 L535.3 2234.2 L536.8 2234.1 L538.4 2234.1 L540.0 2234.1 L541.5 2234.1 L543.1 2234.1 L544.6 2234.1 L546.2 2234.1 L547.8 2234.2 L549.3 2234.3 L550.9 2234.4 L552.5 2234.4 L554.0 2234.6 L555.6 2234.7 L557.2 2234.8 L558.7 2235.0 L560.3 2235.1 L561.9 2235.3 L563.4 2235.5 L565.0 2235.6 L566.5 2235.8 L568.1 2236.0 L569.7 2236.3 L571.2 2236.5 L572.8 2236.7 L574.4 2236.9 L575.9 2237.2 L577.5 2237.5 L579.1 2237.7 L580.6 2238.0 L582.2 2238.3 L583.7 2238.5 L585.3 2238.8 L586.9 2239.1 L588.4 2239.4 L590.0 2239.7 L591.6 2240.0 L593.1 2240.3 L594.7 2240.6 L596.3 2240.9 L597.8 2241.3 L599.4 2241.6 L600.9 2241.9 L602.5 2242.2 L604.1 2242.6 L605.6 2242.9 L607.2 2243.2 L608.8 2243.5 L610.3 2243.9 L611.9 2244.2 L613.5 2244.5 L615.0 2244.9 L616.6 2245.2 L618.1 2245.6 L619.7 2245.9 L621.3 2246.2 L622.8 2246.6 L624.4 2246.9 L626.0 2247.2 L627.5 2247.6 L629.1 2247.9 L630.7 2248.2 L632.2 2248.6 L633.8 2248.9 L635.3 2249.2 L636.9 2249.5 L638.5 2249.9 L640.0 2250.2 L641.6 2250.5 L643.2 2250.8 L644.7 2251.1 L646.3 2251.5 L649.4 2252.1 L652.5 2252.7 L655.7 2253.3 L658.8 2253.9 L661.9 2254.5 L665.1 2255.0 L668.2 2255.6 L671.3 2256.2 L674.4 2256.7 L677.6 2257.2 L680.7 2257.8 L683.8 2258.3 L686.9 2258.8 L690.1 2259.3 L693.2 2259.8 L696.3 2260.3 L699.5 2260.7 L702.6 2261.2 L705.7 2261.7 L708.8 2262.1 L712.0 2262.6 L715.1 2263.0 L718.2 2263.5 L721.3 2263.9 L724.5 2264.3 L727.6 2264.8 L730.7 2265.2 L733.9 2265.6 L737.0 2266.0 L740.1 2266.4 L743.2 2266.8 L746.4 2267.2 L749.5 2267.6 L752.6 2268.1 L755.8 2268.5 L758.9 2268.9 L762.0 2269.3 L765.1 2269.7 L768.3 2270.1 L771.4 2270.5 L774.5 2270.9 L777.6 2271.3 L780.8 2271.7 L783.9 2272.1 L787.0 2272.5 L790.2 2272.9 L793.3 2273.3 L796.4 2273.8 L799.5 2274.2 L802.7 2274.6 L805.8 2275.0 L808.9 2275.4 L812.0 2275.8 L815.2 2276.3 L818.3 2276.7 L821.4 2277.1 L824.6 2277.6 L827.7 2278.0 L830.8 2278.4 L833.9 2278.9 L837.1 2279.3 L840.2 2279.8 L843.3 2280.2 L846.4 2280.7 L849.6 2281.1 L852.7 2281.6 L855.8 2282.0 L859.0 2282.5 L862.1 2282.9 L865.2 2283.4 L868.3 2283.9 L871.5 2284.3 L874.6 2284.8 L877.7 2285.3 L880.8 2285.8 L884.0 2286.3 L887.1 2286.7 L890.2 2287.2 L893.4 2287.7 L896.5 2288.2 L899.6 2288.7 L902.7 2289.2 L905.9 2289.7 L909.0 2290.2 L912.1 2290.7 L915.2 2291.2 L918.4 2291.7 L921.5 2292.2 L924.6 2292.7 L927.8 2293.3 L930.9 2293.8 L934.0 2294.3 L937.1 2294.8 L940.3 2295.4 L943.4 2295.9 L946.5 2296.4 L949.7 2297.0 L952.8 2297.5 L955.9 2298.0 L959.0 2298.6 L962.2 2299.1 L965.3 2299.7 L968.4 2300.2 L971.5 2300.8 L974.7 2301.4 L977.8 2301.9 L980.9 2302.5 L984.1 2303.0 L987.2 2303.6 L990.3 2304.2 L993.4 2304.8 L996.6 2305.3 L999.7 2305.9 L1002.8 2306.5 L1005.9 2307.1 L1009.1 2307.7 L1012.2 2308.2 L1015.3 2308.8 L1018.5 2309.4 L1021.6 2310.0 L1024.7 2310.6 L1027.8 2311.2 L1031.0 2311.8 L1034.1 2312.4 L1037.2 2313.0 L1040.3 2313.7 L1043.5 2314.3 L1046.6 2314.9 L1049.7 2315.5 L1052.9 2316.1 L1056.0 2316.7 L1059.1 2317.4 L1062.2 2318.0 L1065.4 2318.6 L1068.5 2319.3 L1071.6 2319.9 L1074.7 2320.5 L1077.9 2321.2 L1081.0 2321.8 L1084.1 2322.5 L1087.3 2323.1 L1090.4 2323.8 L1093.5 2324.4 L1096.6 2325.1 L1099.8 2325.7 L1102.9 2326.4 L1106.0 2327.1 L1109.1 2327.7 L1112.3 2328.4 L1115.4 2329.1 L1118.5 2329.7 L1121.7 2330.4 L1124.8 2331.1 L1127.9 2331.8 L1131.0 2332.4 L1134.2 2333.1 L1137.3 2333.8 L1140.4 2334.5 L1143.5 2335.2 L1146.7 2335.9 L1149.8 2336.6 L1152.9 2337.3 L1156.1 2338.0 L1159.2 2338.7 L1162.3 2339.4 L1165.4 2340.1 L1168.6 2340.8 L1171.7 2341.5 L1174.8 2342.2 L1178.0 2342.9 L1181.1 2343.7 L1184.2 2344.4 L1187.3 2345.1 L1190.5 2345.8 L1193.6 2346.6 L1196.7 2347.3 L1199.8 2348.0 L1203.0 2348.8 L1206.1 2349.5 L1209.2 2350.2 L1212.4 2351.0 L1215.5 2351.7 L1218.6 2352.5 L1221.7 2353.2 L1224.9 2354.0 L1228.0 2354.7 L1231.1 2355.5 L1234.2 2356.2 L1237.4 2357.0 L1240.5 2357.8 L1243.6 2358.5 L1246.8 2359.3 L1249.9 2360.1 L1253.0 2360.8 L1256.1 2361.6 L1259.3 2362.4 L1262.4 2363.2 L1265.5 2363.9 L1268.6 2364.7 L1271.8 2365.5 L1274.9 2366.3 L1278.0 2367.1 L1281.2 2367.9 L1284.3 2368.7 L1287.4 2369.4 L1290.5 2370.2 L1293.7 2371.0 L1296.8 2371.8 L1299.9 2372.6 L1303.0 2373.4 L1306.2 2374.3 L1309.3 2375.1 L1312.4 2375.9 L1315.6 2376.7 L1318.7 2377.5 L1321.8 2378.3 L1324.9 2379.1 L1328.1 2380.0 L1331.2 2380.8 L1334.3 2381.6 L1337.5 2382.4 L1340.6 2383.3 L1343.7 2384.1 L1346.8 2384.9 L1350.0 2385.8 L1353.1 2386.6 L1356.2 2387.4 L1359.3 2388.3 L1362.5 2389.1 L1365.6 2390.0 L1368.7 2390.8 L1371.9 2391.7 L1375.0 2392.5 L1378.1 2393.4 L1381.2 2394.2 L1384.4 2395.1 L1387.5 2395.9 L1390.6 2396.8 L1393.7 2397.7 L1396.9 2398.5 L1400.0 2399.4 L1403.1 2400.3 L1406.3 2401.1 L1409.4 2402.0 L1412.5 2402.9 L1415.6 2403.8 L1418.8 2404.6 L1421.9 2405.5 L1425.0 2406.4 L1428.1 2407.3 L1431.3 2408.2 L1434.4 2409.1 L1437.5 2409.9 L1440.7 2410.8 L1443.8 2411.7 L1446.9 2412.6 L1450.0 2413.5 L1453.2 2414.4 L1456.3 2415.3 L1459.4 2416.2 L1462.5 2417.1 L1465.7 2418.0 L1468.8 2418.9 L1471.9 2419.8 L1475.1 2420.8 L1478.2 2421.7 L1481.3 2422.6 L1484.4 2423.5 L1487.6 2424.4 L1490.7 2425.3 L1493.8 2426.3 L1496.9 2427.2 L1500.1 2428.1 L1503.2 2429.0 L1506.3 2430.0 L1509.5 2430.9 L1512.6 2431.8 L1515.7 2432.8 L1518.8 2433.7 L1522.0 2434.6 L1525.1 2435.6 L1528.2 2436.5 L1531.3 2437.4 L1534.5 2438.4 L1537.6 2439.3 L1540.7 2440.3 L1543.9 2441.2 L1547.0 2442.2 L1550.1 2443.1 L1553.2 2444.1 L1556.4 2445.0 L1559.5 2446.0 L1562.6 2446.9 L1565.8 2447.9 L1568.9 2448.9 L1572.0 2449.8 L1575.1 2450.8 L1578.3 2451.7 L1581.4 2452.7 L1584.5 2453.7 L1587.6 2454.7 L1590.8 2455.6 L1593.9 2456.6 L1597.0 2457.6 L1600.2 2458.5 L1603.3 2459.5 L1606.4 2460.5 L1609.5 2461.5 L1612.7 2462.5 L1615.8 2463.4 L1618.9 2464.4 L1622.0 2465.4 L1625.2 2466.4 L1628.3 2467.4 L1631.4 2468.4 L1634.6 2469.4 L1637.7 2470.4 L1640.8 2471.4 L1643.9 2472.4 L1647.1 2473.4 L1650.2 2474.3 L1653.3 2475.3 L1656.4 2476.3 L1659.6 2477.4 L1662.7 2478.4 L1665.8 2479.4 L1669.0 2480.4 L1672.1 2481.4 L1675.2 2482.4 L1678.3 2483.4 L1681.5 2484.4 L1684.6 2485.4 L1687.7 2486.4 L1690.8 2487.4 L1694.0 2488.5 L1697.1 2489.5 L1700.2 2490.5 L1703.4 2491.5 L1706.5 2492.5 L1709.6 2493.6 L1712.7 2494.6 L1715.9 2495.6 L1719.0 2496.6 L1722.1 2497.7 L1725.2 2498.7 L1728.4 2499.7 L1731.5 2500.8 L1734.6 2501.8 L1737.8 2502.8 L1740.9 2503.9 L1744.0 2504.9 L1747.1 2505.9 L1750.3 2507.0 L1753.4 2508.0 L1756.5 2509.1 L1759.7 2510.1 L1762.8 2511.1 L1765.9 2512.2 L1769.0 2513.2 L1772.2 2514.3 L1775.3 2515.3 L1778.4 2516.4 L1781.5 2517.4 L1784.7 2518.5 L1787.8 2519.5 L1790.9 2520.6 L1794.1 2521.6 L1797.2 2522.7 L1800.3 2523.7 L1803.4 2524.8 L1806.6 2525.9 L1809.7 2526.9 L1812.8 2528.0 L1815.9 2529.0 L1819.1 2530.1 L1822.2 2531.2 L1825.3 2532.2 L1828.5 2533.3 L1831.6 2534.4 L1834.7 2535.4 L1837.8 2536.5 L1841.0 2537.6 L1844.1 2538.6 L1847.2 2539.7 L1850.3 2540.8 L1853.5 2541.9 L1856.6 2542.9 L1859.7 2544.0 L1862.9 2545.1 L1866.0 2546.1 L1869.1 2547.2 L1872.2 2548.3 L1875.4 2549.4 L1878.5 2550.5 L1881.6 2551.5 L1884.7 2552.6 L1887.9 2553.7 L1891.0 2554.8 L1894.1 2555.9 L1897.3 2557.0 L1900.4 2558.0 L1903.5 2559.1 L1906.6 2560.2 L1909.8 2561.3 L1912.9 2562.4 L1916.0 2563.5 L1919.2 2564.6 L1922.3 2565.7 L1925.4 2566.7 L1928.5 2567.8 L1931.7 2568.9 L1934.8 2570.0 L1937.9 2571.1 L1941.0 2572.2 L1944.2 2573.3 L1947.3 2574.4 L1950.4 2575.5 L1953.6 2576.6 L1956.7 2577.7 L1959.8 2578.8 L1962.9 2579.9 L1966.1 2581.0 L1969.2 2582.1 L1972.3 2583.2 L1975.4 2584.3 L1978.6 2585.4 L1981.7 2586.5 L1984.8 2587.6 L1988.0 2588.7 L1991.1 2589.8 L1994.2 2590.9 L1997.3 2592.0 L2000.5 2593.1 L2003.6 2594.2 L2006.7 2595.3 L2009.8 2596.4 L2013.0 2597.6 L2016.1 2598.7 L2019.2 2599.8 L2022.4 2600.9 L2025.5 2602.0 L2028.6 2603.1 L2031.7 2604.2 L2034.9 2605.3 L2038.0 2606.4 L2041.1 2607.5 L2044.2 2608.7 L2047.4 2609.8 L2050.5 2610.9 L2053.6 2612.0 L2056.8 2613.1 L2059.9 2614.2 L2063.0 2615.3 L2066.1 2616.5 L2069.3 2617.6 L2072.4 2618.7 L2075.5 2619.8 L2078.6 2620.9 L2081.8 2622.0 L2084.9 2623.2 L2088.0 2624.3 L2091.2 2625.4 L2094.3 2626.5 L2097.4 2627.6 L2100.5 2628.8 L2103.7 2629.9 L2106.8 2631.0 L2109.9 2632.1 L2113.1 2633.2 L2116.2 2634.4 L2119.3 2635.5 L2122.4 2636.6 L2125.6 2637.7 L2128.7 2638.8 L2131.8 2640.0 L2134.9 2641.1 L2138.1 2642.2 L2141.2 2643.3 L2144.3 2644.4 L2147.5 2645.6 L2150.6 2646.7 L2153.7 2647.8 L2156.8 2648.9 L2160.0 2650.1 L2163.1 2651.2 L2166.2 2652.3 L2169.3 2653.4 L2172.5 2654.6 L2175.6 2655.7 L2178.7 2656.8 L2181.9 2657.9 L2185.0 2659.1 L2188.1 2660.2 L2191.2 2661.3 L2194.4 2662.4 L2197.5 2663.5 L2200.6 2664.7 L2203.7 2665.8 L2206.9 2666.9 L2210.0 2668.0" stroke="#0072BD"/>
<path d="M271.0 2668.0 L272.6 2668.3 L274.1 2668.8 L275.7 2669.7 L277.3 2670.8 L278.8 2672.1 L280.4 2673.6 L281.9 2675.3 L283.5 2677.2 L285.1 2679.3 L286.6 2681.5 L288.2 2683.9 L289.8 2686.5 L291.3 2689.2 L292.9 2692.1 L294.5 2695.1 L296.0 2698.2 L297.6 2701.5 L299.1 2704.9 L300.7 2708.4 L302.3 2712.0 L303.8 2715.7 L305.4 2719.5 L307.0 2723.5 L308.5 2727.5 L310.1 2731.6 L311.7 2735.7 L313.2 2740.0 L314.8 2744.3 L316.3 2748.7 L317.9 2753.1 L319.5 2757.6 L321.0 2762.2 L322.6 2766.8 L324.2 2771.4 L325.7 2776.1 L327.3 2780.9 L328.9 2785.6 L330.4 2790.4 L332.0 2795.2 L333.5 2800.0 L335.1 2804.9 L336.7 2809.7 L338.2 2814.6 L339.8 2819.4 L341.4 2824.3 L342.9 2829.2 L344.5 2834.0 L346.1 2838.9 L347.6 2843.8 L349.2 2848.6 L350.7 2853.4 L352.3 2858.2 L353.9 2863.0 L355.4 2867.7 L357.0 2872.4 L358.6 2877.1 L360.1 2881.8 L361.7 2886.4 L363.3 2891.0 L364.8 2895.6 L366.4 2900.1 L367.9 2904.6 L369.5 2909.0 L371.1 2913.4 L372.6 2917.7 L374.2 2922.0 L375.8 2926.3 L377.3 2930.5 L378.9 2934.6 L380.5 2938.7 L382.0 2942.7 L383.6 2946.7 L385.2 2950.6 L386.7 2954.5 L388.3 2958.3 L389.8 2962.1 L391.4 2965.8 L393.0 2969.4 L394.5 2973.0 L396.1 2976.5 L397.7 2979.9 L399.2 2983.3 L400.8 2986.7 L402.4 2989.9 L403.9 2993.1 L405.5 2996.3 L407.0 2999.4 L408.6 3002.4 L410.2 3005.3 L411.7 3008.2 L413.3 3011.1 L414.9 3013.8 L416.4 3016.6 L418.0 3019.2 L419.6 3021.8 L421.1 3024.3 L422.7 3026.8 L424.2 3029.2 L425.8 3031.5 L427.4 3033.8 L428.9 3036.1 L430.5 3038.2 L432.1 3040.3 L433.6 3042.4 L435.2 3044.4 L436.8 3046.3 L438.3 3048.2 L439.9 3050.0 L441.4 3051.8 L443.0 3053.5 L444.6 3055.2 L446.1 3056.8 L447.7 3058.3 L449.3 3059.8 L450.8 3061.3 L452.4 3062.7 L454.0 3064.0 L455.5 3065.3 L457.1 3066.5 L458.6 3067.7 L460.2 3068.9 L461.8 3070.0 L463.3 3071.0 L464.9 3072.0 L466.5 3073.0 L468.0 3073.9 L469.6 3074.7 L471.2 3075.6 L472.7 3076.3 L474.3 3077.0 L475.8 3077.7 L477.4 3078.4 L479.0 3079.0 L480.5 3079.5 L482.1 3080.0 L483.7 3080.5 L485.2 3080.9 L486.8 3081.3 L488.4 3081.7 L489.9 3082.0 L491.5 3082.2 L493.0 3082.5 L494.6 3082.7 L496.2 3082.8 L497.7 3083.0 L499.3 3083.0 L500.9 3083.1 L502.4 3083.1 L504.0 3083.1 L505.6 3083.0 L507.1 3083.0 L508.7 3082.8 L510.2 3082.7 L511.8 3082.5 L513.4 3082.3 L514.9 3082.0 L516.5 3081.8 L518.1 3081.5 L519.6 3081.1 L521.2 3080.7 L522.8 3080.4 L524.3 3079.9 L525.9 3079.5 L527.4 3079.0 L529.0 3078.5 L530.6 3078.0 L532.1 3077.4 L533.7 3076.8 L535.3 3076.2 L536.8 3075.6 L538.4 3074.9 L540.0 3074.3 L541.5 3073.6 L543.1 3072.8 L544.6 3072.1 L546.2 3071.3 L547.8 3070.6 L549.3 3069.8 L550.9 3068.9 L552.5 3068.1 L554.0 3067.2 L555.6 3066.3 L557.2 3065.5 L558.7 3064.5 L560.3 3063.6 L561.9 3062.7 L563.4 3061.7 L565.0 3060.7 L566.5 3059.7 L568.1 3058.7 L569.7 3057.7 L571.2 3056.7 L572.8 3055.6 L574.4 3054.6 L575.9 3053.5 L577.5 3052.4 L579.1 3051.4 L580.6 3050.3 L582.2 3049.1 L583.7 3048.0 L585.3 3046.9 L586.9 3045.7 L588.4 3044.6 L590.0 3043.4 L591.6 3042.3 L593.1 3041.1 L594.7 3039.9 L596.3 3038.7 L597.8 3037.5 L599.4 3036.3 L600.9 3035.1 L602.5 3033.9 L604.1 3032.7 L605.6 3031.5 L607.2 3030.2 L608.8 3029.0 L610.3 3027.7 L611.9 3026.5 L613.5 3025.2 L615.0 3024.0 L616.6 3022.7 L618.1 3021.5 L619.7 3020.2 L621.3 3018.9 L622.8 3017.7 L624.4 3016.4 L626.0 3015.1 L627.5 3013.8 L629.1 3012.5 L630.7 3011.2 L632.2 3009.9 L633.8 3008.6 L635.3 3007.3 L636.9 3006.0 L638.5 3004.7 L640.0 3003.4 L641.6 3002.1 L643.2 3000.8 L644.7 2999.5 L646.3 2998.2 L649.4 2995.6 L652.5 2992.9 L655.7 2990.3 L658.8 2987.6 L661.9 2985.0 L665.1 2982.3 L668.2 2979.6 L671.3 2976.9 L674.4 2974.3 L677.6 2971.6 L680.7 2968.9 L683.8 2966.2 L686.9 2963.4 L690.1 2960.7 L693.2 2958.0 L696.3 2955.2 L699.5 2952.5 L702.6 2949.7 L705.7 2947.0 L708.8 2944.2 L712.0 2941.4 L715.1 2938.6 L718.2 2935.8 L721.3 2933.0 L724.5 2930.2 L727.6 2927.3 L730.7 2924.5 L733.9 2921.6 L737.0 2918.8 L740.1 2915.9 L743.2 2913.0 L746.4 2910.1 L749.5 2907.2 L752.6 2904.2 L755.8 2901.3 L758.9 2898.3 L762.0 2895.4 L765.1 2892.4 L768.3 2889.4 L771.4 2886.4 L774.5 2883.4 L777.6 2880.4 L780.8 2877.3 L783.9 2874.3 L787.0 2871.2 L790.2 2868.1 L793.3 2865.1 L796.4 2862.0 L799.5 2858.9 L802.7 2855.7 L805.8 2852.6 L808.9 2849.5 L812.0 2846.3 L815.2 2843.1 L818.3 2840.0 L821.4 2836.8 L824.6 2833.6 L827.7 2830.4 L830.8 2827.2 L833.9 2823.9 L837.1 2820.7 L840.2 2817.5 L843.3 2814.2 L846.4 2810.9 L849.6 2807.7 L852.7 2804.4 L855.8 2801.1 L859.0 2797.8 L862.1 2794.5 L865.2 2791.2 L868.3 2787.8 L871.5 2784.5 L874.6 2781.2 L877.7 2777.8 L880.8 2774.5 L884.0 2771.1 L887.1 2767.8 L890.2 2764.4 L893.4 2761.0 L896.5 2757.6 L899.6 2754.2 L902.7 2750.8 L905.9 2747.4 L909.0 2744.0 L912.1 2740.6 L915.2 2737.2 L918.4 2733.8 L921.5 2730.4 L924.6 2726.9 L927.8 2723.5 L930.9 2720.1 L934.0 2716.6 L937.1 2713.2 L940.3 2709.8 L943.4 2706.3 L946.5 2702.9 L949.7 2699.4 L952.8 2696.0 L955.9 2692.5 L959.0 2689.1 L962.2 2685.6 L965.3 2682.1 L968.4 2678.7 L971.5 2675.2 L974.7 2671.8 L977.8 2668.3 L980.9 2664.8 L984.1 2661.4 L987.2 2657.9 L990.3 2654.5 L993.4 2651.0 L996.6 2647.5 L999.7 2644.1 L1002.8 2640.6 L1005.9 2637.2 L1009.1 2633.7 L1012.2 2630.3 L1015.3 2626.8 L1018.5 2623.4 L1021.6 2620.0 L1024.7 2616.5 L1027.8 2613.1 L1031.0 2609.6 L1034.1 2606.2 L1037.2 2602.8 L1040.3 2599.4 L1043.5 2596.0 L1046.6 2592.6 L1049.7 2589.2 L1052.9 2585.8 L1056.0 2582.4 L1059.1 2579.0 L1062.2 2575.6 L1065.4 2572.2 L1068.5 2568.8 L1071.6 2565.5 L1074.7 2562.1 L1077.9 2558.8 L1081.0 2555.4 L1084.1 2552.1 L1087.3 2548.7 L1090.4 2545.4 L1093.5 2542.1 L1096.6 2538.8 L1099.8 2535.5 L1102.9 2532.2 L1106.0 2528.9 L1109.1 2525.6 L1112.3 2522.4 L1115.4 2519.1 L1118.5 2515.9 L1121.7 2512.6 L1124.8 2509.4 L1127.9 2506.2 L1131.0 2503.0 L1134.2 2499.8 L1137.3 2496.6 L1140.4 2493.4 L1143.5 2490.3 L1146.7 2487.1 L1149.8 2484.0 L1152.9 2480.9 L1156.1 2477.7 L1159.2 2474.6 L1162.3 2471.6 L1165.4 2468.5 L1168.6 2465.4 L1171.7 2462.4 L1174.8 2459.3 L1178.0 2456.3 L1181.1 2453.3 L1184.2 2450.3 L1187.3 2447.3 L1190.5 2444.3 L1193.6 2441.4 L1196.7 2438.4 L1199.8 2435.5 L1203.0 2432.6 L1206.1 2429.7 L1209.2 2426.8 L1212.4 2423.9 L1215.5 2421.1 L1218.6 2418.2 L1221.7 2415.4 L1224.9 2412.6 L1228.0 2409.8 L1231.1 2407.0 L1234.2 2404.3 L1237.4 2401.5 L1240.5 2398.8 L1243.6 2396.1 L1246.8 2393.4 L1249.9 2390.7 L1253.0 2388.1 L1256.1 2385.5 L1259.3 2382.8 L1262.4 2380.2 L1265.5 2377.7 L1268.6 2375.1 L1271.8 2372.6 L1274.9 2370.0 L1278.0 2367.5 L1281.2 2365.0 L1284.3 2362.6 L1287.4 2360.1 L1290.5 2357.7 L1293.7 2355.3 L1296.8 2352.9 L1299.9 2350.5 L1303.0 2348.2 L1306.2 2345.8 L1309.3 2343.5 L1312.4 2341.2 L1315.6 2339.0 L1318.7 2336.7 L1321.8 2334.5 L1324.9 2332.3 L1328.1 2330.1 L1331.2 2328.0 L1334.3 2325.8 L1337.5 2323.7 L1340.6 2321.6 L1343.7 2319.5 L1346.8 2317.5 L1350.0 2315.5 L1353.1 2313.5 L1356.2 2311.5 L1359.3 2309.5 L1362.5 2307.6 L1365.6 2305.7 L1368.7 2303.8 L1371.9 2301.9 L1375.0 2300.0 L1378.1 2298.2 L1381.2 2296.4 L1384.4 2294.6 L1387.5 2292.9 L1390.6 2291.2 L1393.7 2289.5 L1396.9 2287.8 L1400.0 2286.1 L1403.1 2284.5 L1406.3 2282.9 L1409.4 2281.3 L1412.5 2279.7 L1415.6 2278.2 L1418.8 2276.7 L1421.9 2275.2 L1425.0 2273.8 L1428.1 2272.3 L1431.3 2270.9 L1434.4 2269.5 L1437.5 2268.2 L1440.7 2266.8 L1443.8 2265.5 L1446.9 2264.3 L1450.0 2263.0 L1453.2 2261.8 L1456.3 2260.6 L1459.4 2259.4 L1462.5 2258.2 L1465.7 2257.1 L1468.8 2256.0 L1471.9 2254.9 L1475.1 2253.9 L1478.2 2252.9 L1481.3 2251.9 L1484.4 2250.9 L1487.6 2250.0 L1490.7 2249.1 L1493.8 2248.2 L1496.9 2247.3 L1500.1 2246.5 L1503.2 2245.7 L1506.3 2244.9 L1509.5 2244.1 L1512.6 2243.4 L1515.7 2242.7 L1518.8 2242.0 L1522.0 2241.4 L1525.1 2240.8 L1528.2 2240.2 L1531.3 2239.6 L1534.5 2239.1 L1537.6 2238.6 L1540.7 2238.1 L1543.9 2237.6 L1547.0 2237.2 L1550.1 2236.8 L1553.2 2236.4 L1556.4 2236.1 L1559.5 2235.8 L1562.6 2235.5 L1565.8 2235.2 L1568.9 2235.0 L1572.0 2234.8 L1575.1 2234.6 L1578.3 2234.4 L1581.4 2234.3 L1584.5 2234.2 L1587.6 2234.1 L1590.8 2234.1 L1593.9 2234.1 L1597.0 2234.1 L1600.2 2234.1 L1603.3 2234.2 L1606.4 2234.3 L1609.5 2234.4 L1612.7 2234.6 L1615.8 2234.7 L1618.9 2234.9 L1622.0 2235.2 L1625.2 2235.4 L1628.3 2235.7 L1631.4 2236.0 L1634.6 2236.4 L1637.7 2236.8 L1640.8 2237.2 L1643.9 2237.6 L1647.1 2238.0 L1650.2 2238.5 L1653.3 2239.0 L1656.4 2239.6 L1659.6 2240.1 L1662.7 2240.7 L1665.8 2241.3 L1669.0 2242.0 L1672.1 2242.6 L1675.2 2243.3 L1678.3 2244.1 L1681.5 2244.8 L1684.6 2245.6 L1687.7 2246.4 L1690.8 2247.2 L1694.0 2248.1 L1697.1 2249.0 L1700.2 2249.9 L1703.4 2250.8 L1706.5 2251.8 L1709.6 2252.8 L1712.7 2253.8 L1715.9 2254.8 L1719.0 2255.9 L1722.1 2257.0 L1725.2 2258.1 L1728.4 2259.3 L1731.5 2260.5 L1734.6 2261.7 L1737.8 2262.9 L1740.9 2264.1 L1744.0 2265.4 L1747.1 2266.7 L1750.3 2268.1 L1753.4 2269.4 L1756.5 2270.8 L1759.7 2272.2 L1762.8 2273.6 L1765.9 2275.1 L1769.0 2276.6 L1772.2 2278.1 L1775.3 2279.6 L1778.4 2281.2 L1781.5 2282.7 L1784.7 2284.3 L1787.8 2286.0 L1790.9 2287.6 L1794.1 2289.3 L1797.2 2291.0 L1800.3 2292.7 L1803.4 2294.5 L1806.6 2296.2 L1809.7 2298.0 L1812.8 2299.9 L1815.9 2301.7 L1819.1 2303.6 L1822.2 2305.5 L1825.3 2307.4 L1828.5 2309.3 L1831.6 2311.3 L1834.7 2313.2 L1837.8 2315.3 L1841.0 2317.3 L1844.1 2319.3 L1847.2 2321.4 L1850.3 2323.5 L1853.5 2325.6 L1856.6 2327.7 L1859.7 2329.9 L1862.9 2332.1 L1866.0 2334.3 L1869.1 2336.5 L1872.2 2338.7 L1875.4 2341.0 L1878.5 2343.3 L1881.6 2345.6 L1884.7 2347.9 L1887.9 2350.3 L1891.0 2352.6 L1894.1 2355.0 L1897.3 2357.4 L1900.4 2359.8 L1903.5 2362.3 L1906.6 2364.7 L1909.8 2367.2 L1912.9 2369.7 L1916.0 2372.2 L1919.2 2374.8 L1922.3 2377.3 L1925.4 2379.9 L1928.5 2382.5 L1931.7 2385.1 L1934.8 2387.8 L1937.9 2390.4 L1941.0 2393.1 L1944.2 2395.7 L1947.3 2398.4 L1950.4 2401.2 L1953.6 2403.9 L1956.7 2406.6 L1959.8 2409.4 L1962.9 2412.2 L1966.1 2415.0 L1969.2 2417.8 L1972.3 2420.6 L1975.4 2423.5 L1978.6 2426.3 L1981.7 2429.2 L1984.8 2432.1 L1988.0 2435.0 L1991.1 2437.9 L1994.2 2440.8 L1997.3 2443.8 L2000.5 2446.8 L2003.6 2449.7 L2006.7 2452.7 L2009.8 2455.7 L2013.0 2458.7 L2016.1 2461.8 L2019.2 2464.8 L2022.4 2467.8 L2025.5 2470.9 L2028.6 2474.0 L2031.7 2477.1 L2034.9 2480.2 L2038.0 2483.3 L2041.1 2486.4 L2044.2 2489.5 L2047.4 2492.7 L2050.5 2495.8 L2053.6 2499.0 L2056.8 2502.1 L2059.9 2505.3 L2063.0 2508.5 L2066.1 2511.7 L2069.3 2514.9 L2072.4 2518.1 L2075.5 2521.4 L2078.6 2524.6 L2081.8 2527.8 L2084.9 2531.1 L2088.0 2534.3 L2091.2 2537.6 L2094.3 2540.9 L2097.4 2544.1 L2100.5 2547.4 L2103.7 2550.7 L2106.8 2554.0 L2109.9 2557.3 L2113.1 2560.6 L2116.2 2563.9 L2119.3 2567.2 L2122.4 2570.5 L2125.6 2573.9 L2128.7 2577.2 L2131.8 2580.5 L2134.9 2583.8 L2138.1 2587.2 L2141.2 2590.5 L2144.3 2593.8 L2147.5 2597.2 L2150.6 2600.5 L2153.7 2603.9 L2156.8 2607.2 L2160.0 2610.6 L2163.1 2613.9 L2166.2 2617.2 L2169.3 2620.6 L2172.5 2623.9 L2175.6 2627.3 L2178.7 2630.6 L2181.9 2634.0 L2185.0 2637.3 L2188.1 2640.6 L2191.2 2643.9 L2194.4 2647.3 L2197.5 2650.6 L2200.6 2653.9 L2203.7 2657.2 L2206.9 2660.5 L2210.0 2663.8" stroke="#D95319"/>
<path d="M271.0 2668.0 L272.6 2668.3 L274.1 2668.8 L275.7 2669.7 L277.3 2670.8 L278.8 2672.1 L280.4 2673.6 L281.9 2675.3 L283.5 2677.2 L285.1 2679.2 L286.6 2681.5 L288.2 2683.9 L289.8 2686.5 L291.3 2689.2 L292.9 2692.0 L294.5 2695.0 L296.0 2698.2 L297.6 2701.4 L299.1 2704.8 L300.7 2708.3 L302.3 2711.9 L303.8 2715.6 L305.4 2719.4 L307.0 2723.4 L308.5 2727.3 L310.1 2731.4 L311.7 2735.6 L313.2 2739.8 L314.8 2744.1 L316.3 2748.5 L317.9 2752.9 L319.5 2757.4 L321.0 2761.9 L322.6 2766.5 L324.2 2771.1 L325.7 2775.8 L327.3 2780.5 L328.9 2785.2 L330.4 2790.0 L332.0 2794.7 L333.5 2799.5 L335.1 2804.3 L336.7 2809.1 L338.2 2814.0 L339.8 2818.8 L341.4 2823.6 L342.9 2828.4 L344.5 2833.2 L346.1 2838.0 L347.6 2842.8 L349.2 2847.5 L350.7 2852.3 L352.3 2857.0 L353.9 2861.6 L355.4 2866.3 L357.0 2870.9 L358.6 2875.5 L360.1 2880.1 L361.7 2884.6 L363.3 2889.0 L364.8 2893.5 L366.4 2897.8 L367.9 2902.2 L369.5 2906.5 L371.1 2910.7 L372.6 2914.9 L374.2 2919.0 L375.8 2923.0 L377.3 2927.0 L378.9 2931.0 L380.5 2934.9 L382.0 2938.7 L383.6 2942.5 L385.2 2946.1 L386.7 2949.8 L388.3 2953.3 L389.8 2956.8 L391.4 2960.3 L393.0 2963.6 L394.5 2966.9 L396.1 2970.1 L397.7 2973.3 L399.2 2976.4 L400.8 2979.4 L402.4 2982.3 L403.9 2985.2 L405.5 2988.0 L407.0 2990.7 L408.6 2993.4 L410.2 2996.0 L411.7 2998.5 L413.3 3000.9 L414.9 3003.3 L416.4 3005.6 L418.0 3007.8 L419.6 3009.9 L421.1 3012.0 L422.7 3014.0 L424.2 3015.9 L425.8 3017.8 L427.4 3019.6 L428.9 3021.3 L430.5 3023.0 L432.1 3024.6 L433.6 3026.1 L435.2 3027.5 L436.8 3028.9 L438.3 3030.2 L439.9 3031.5 L441.4 3032.7 L443.0 3033.8 L444.6 3034.8 L446.1 3035.8 L447.7 3036.7 L449.3 3037.6 L450.8 3038.4 L452.4 3039.1 L454.0 3039.8 L455.5 3040.4 L457.1 3041.0 L458.6 3041.4 L460.2 3041.9 L461.8 3042.2 L463.3 3042.5 L464.9 3042.8 L466.5 3043.0 L468.0 3043.1 L469.6 3043.2 L471.2 3043.2 L472.7 3043.2 L474.3 3043.1 L475.8 3042.9 L477.4 3042.7 L479.0 3042.5 L480.5 3042.2 L482.1 3041.8 L483.7 3041.4 L485.2 3040.9 L486.8 3040.4 L488.4 3039.8 L489.9 3039.2 L491.5 3038.5 L493.0 3037.8 L494.6 3037.1 L496.2 3036.2 L497.7 3035.4 L499.3 3034.5 L500.9 3033.5 L502.4 3032.5 L504.0 3031.5 L505.6 3030.4 L507.1 3029.2 L508.7 3028.1 L510.2 3026.8 L511.8 3025.6 L513.4 3024.3 L514.9 3022.9 L516.5 3021.5 L518.1 3020.1 L519.6 3018.6 L521.2 3017.1 L522.8 3015.6 L524.3 3014.0 L525.9 3012.4 L527.4 3010.7 L529.0 3009.0 L530.6 3007.3 L532.1 3005.5 L533.7 3003.7 L535.3 3001.9 L536.8 3000.0 L538.4 2998.1 L540.0 2996.2 L541.5 2994.3 L543.1 2992.3 L544.6 2990.3 L546.2 2988.2 L547.8 2986.2 L549.3 2984.1 L550.9 2982.0 L552.5 2979.8 L554.0 2977.7 L555.6 2975.5 L557.2 2973.2 L558.7 2971.0 L560.3 2968.7 L561.9 2966.5 L563.4 2964.2 L565.0 2961.8 L566.5 2959.5 L568.1 2957.1 L569.7 2954.8 L571.2 2952.4 L572.8 2950.0 L574.4 2947.5 L575.9 2945.1 L577.5 2942.6 L579.1 2940.1 L580.6 2937.7 L582.2 2935.2 L583.7 2932.6 L585.3 2930.1 L586.9 2927.6 L588.4 2925.0 L590.0 2922.4 L591.6 2919.9 L593.1 2917.3 L594.7 2914.7 L596.3 2912.1 L597.8 2909.5 L599.4 2906.8 L600.9 2904.2 L602.5 2901.5 L604.1 2898.9 L605.6 2896.2 L607.2 2893.6 L608.8 2890.9 L610.3 2888.2 L611.9 2885.5 L613.5 2882.8 L615.0 2880.1 L616.6 2877.4 L618.1 2874.7 L619.7 2871.9 L621.3 2869.2 L622.8 2866.5 L624.4 2863.7 L626.0 2861.0 L627.5 2858.2 L629.1 2855.5 L630.7 2852.7 L632.2 2850.0 L633.8 2847.2 L635.3 2844.4 L636.9 2841.6 L638.5 2838.9 L640.0 2836.1 L641.6 2833.3 L643.2 2830.5 L644.7 2827.7 L646.3 2824.9 L649.4 2819.3 L652.5 2813.7 L655.7 2808.0 L658.8 2802.4 L661.9 2796.7 L665.1 2791.1 L668.2 2785.4 L671.3 2779.7 L674.4 2774.0 L677.6 2768.3 L680.7 2762.6 L683.8 2756.9 L686.9 2751.2 L690.1 2745.4 L693.2 2739.7 L696.3 2734.0 L699.5 2728.2 L702.6 2722.5 L705.7 2716.7 L708.8 2710.9 L712.0 2705.2 L715.1 2699.4 L718.2 2693.6 L721.3 2687.9 L724.5 2682.1 L727.6 2676.3 L730.7 2670.6 L733.9 2664.8 L737.0 2659.0 L740.1 2653.3 L743.2 2647.5 L746.4 2641.8 L749.5 2636.0 L752.6 2630.3 L755.8 2624.6 L758.9 2618.8 L762.0 2613.1 L765.1 2607.4 L768.3 2601.7 L771.4 2596.0 L774.5 2590.4 L777.6 2584.7 L780.8 2579.1 L783.9 2573.4 L787.0 2567.8 L790.2 2562.2 L793.3 2556.7 L796.4 2551.1 L799.5 2545.6 L802.7 2540.1 L805.8 2534.6 L808.9 2529.1 L812.0 2523.7 L815.2 2518.2 L818.3 2512.9 L821.4 2507.5 L824.6 2502.2 L827.7 2496.8 L830.8 2491.6 L833.9 2486.3 L837.1 2481.1 L840.2 2475.9 L843.3 2470.8 L846.4 2465.7 L849.6 2460.6 L852.7 2455.5 L855.8 2450.5 L859.0 2445.6 L862.1 2440.6 L865.2 2435.8 L868.3 2430.9 L871.5 2426.1 L874.6 2421.3 L877.7 2416.6 L880.8 2412.0 L884.0 2407.3 L887.1 2402.7 L890.2 2398.2 L893.4 2393.7 L896.5 2389.3 L899.6 2384.9 L902.7 2380.5 L905.9 2376.2 L909.0 2372.0 L912.1 2367.8 L915.2 2363.7 L918.4 2359.6 L921.5 2355.6 L924.6 2351.6 L927.8 2347.7 L930.9 2343.8 L934.0 2340.0 L937.1 2336.3 L940.3 2332.6 L943.4 2329.0 L946.5 2325.4 L949.7 2321.9 L952.8 2318.4 L955.9 2315.0 L959.0 2311.7 L962.2 2308.5 L965.3 2305.3 L968.4 2302.1 L971.5 2299.1 L974.7 2296.1 L977.8 2293.1 L980.9 2290.3 L984.1 2287.5 L987.2 2284.7 L990.3 2282.0 L993.4 2279.4 L996.6 2276.9 L999.7 2274.4 L1002.8 2272.1 L1005.9 2269.7 L1009.1 2267.5 L1012.2 2265.3 L1015.3 2263.2 L1018.5 2261.1 L1021.6 2259.2 L1024.7 2257.3 L1027.8 2255.4 L1031.0 2253.7 L1034.1 2252.0 L1037.2 2250.4 L1040.3 2248.9 L1043.5 2247.4 L1046.6 2246.0 L1049.7 2244.7 L1052.9 2243.5 L1056.0 2242.3 L1059.1 2241.3 L1062.2 2240.3 L1065.4 2239.3 L1068.5 2238.5 L1071.6 2237.7 L1074.7 2237.0 L1077.9 2236.3 L1081.0 2235.8 L1084.1 2235.3 L1087.3 2234.9 L1090.4 2234.6 L1093.5 2234.4 L1096.6 2234.2 L1099.8 2234.1 L1102.9 2234.1 L1106.0 2234.1 L1109.1 2234.3 L1112.3 2234.5 L1115.4 2234.8 L1118.5 2235.1 L1121.7 2235.6 L1124.8 2236.1 L1127.9 2236.7 L1131.0 2237.4 L1134.2 2238.1 L1137.3 2239.0 L1140.4 2239.9 L1143.5 2240.8 L1146.7 2241.9 L1149.8 2243.0 L1152.9 2244.2 L1156.1 2245.5 L1159.2 2246.8 L1162.3 2248.3 L1165.4 2249.8 L1168.6 2251.3 L1171.7 2253.0 L1174.8 2254.7 L1178.0 2256.5 L1181.1 2258.4 L1184.2 2260.3 L1187.3 2262.3 L1190.5 2264.4 L1193.6 2266.6 L1196.7 2268.8 L1199.8 2271.1 L1203.0 2273.5 L1206.1 2275.9 L1209.2 2278.4 L1212.4 2281.0 L1215.5 2283.6 L1218.6 2286.3 L1221.7 2289.1 L1224.9 2292.0 L1228.0 2294.9 L1231.1 2297.9 L1234.2 2300.9 L1237.4 2304.0 L1240.5 2307.2 L1243.6 2310.4 L1246.8 2313.7 L1249.9 2317.1 L1253.0 2320.5 L1256.1 2324.0 L1259.3 2327.5 L1262.4 2331.2 L1265.5 2334.8 L1268.6 2338.5 L1271.8 2342.3 L1274.9 2346.2 L1278.0 2350.1 L1281.2 2354.0 L1284.3 2358.0 L1287.4 2362.1 L1290.5 2366.2 L1293.7 2370.4 L1296.8 2374.6 L1299.9 2378.9 L1303.0 2383.2 L1306.2 2387.6 L1309.3 2392.0 L1312.4 2396.5 L1315.6 2401.0 L1318.7 2405.6 L1321.8 2410.2 L1324.9 2414.9 L1328.1 2419.6 L1331.2 2424.4 L1334.3 2429.2 L1337.5 2434.0 L1340.6 2438.9 L1343.7 2443.8 L1346.8 2448.8 L1350.0 2453.8 L1353.1 2458.8 L1356.2 2463.9 L1359.3 2469.0 L1362.5 2474.1 L1365.6 2479.3 L1368.7 2484.5 L1371.9 2489.8 L1375.0 2495.1 L1378.1 2500.4 L1381.2 2505.7 L1384.4 2511.1 L1387.5 2516.5 L1390.6 2521.9 L1393.7 2527.3 L1396.9 2532.8 L1400.0 2538.3 L1403.1 2543.8 L1406.3 2549.4 L1409.4 2554.9 L1412.5 2560.5 L1415.6 2566.1 L1418.8 2571.7 L1421.9 2577.4 L1425.0 2583.0 L1428.1 2588.7 L1431.3 2594.4 L1434.4 2600.1 L1437.5 2605.8 L1440.7 2611.5 L1443.8 2617.2 L1446.9 2622.9 L1450.0 2628.7 L1453.2 2634.4 L1456.3 2640.2 L1459.4 2646.0 L1462.5 2651.7 L1465.7 2657.5 L1468.8 2663.3 L1471.9 2669.0 L1475.1 2674.8 L1478.2 2680.6 L1481.3 2686.3 L1484.4 2692.1 L1487.6 2697.9 L1490.7 2703.6 L1493.8 2709.4 L1496.9 2715.1 L1500.1 2720.9 L1503.2 2726.6 L1506.3 2732.3 L1509.5 2738.0 L1512.6 2743.7 L1515.7 2749.4 L1518.8 2755.0 L1522.0 2760.7 L1525.1 2766.3 L1528.2 2771.9 L1531.3 2777.5 L1534.5 2783.1 L1537.6 2788.6 L1540.7 2794.2 L1543.9 2799.7 L1547.0 2805.2 L1550.1 2810.6 L1553.2 2816.1 L1556.4 2821.5 L1559.5 2826.9 L1562.6 2832.2 L1565.8 2837.6 L1568.9 2842.8 L1572.0 2848.1 L1575.1 2853.4 L1578.3 2858.6 L1581.4 2863.7 L1584.5 2868.9 L1587.6 2874.0 L1590.8 2879.0 L1593.9 2884.0 L1597.0 2889.0 L1600.2 2894.0 L1603.3 2898.9 L1606.4 2903.7 L1609.5 2908.6 L1612.7 2913.4 L1615.8 2918.1 L1618.9 2922.8 L1622.0 2927.4 L1625.2 2932.0 L1628.3 2936.6 L1631.4 2941.1 L1634.6 2945.6 L1637.7 2950.0 L1640.8 2954.3 L1643.9 2958.7 L1647.1 2962.9 L1650.2 2967.1 L1653.3 2971.3 L1656.4 2975.4 L1659.6 2979.4 L1662.7 2983.4 L1665.8 2987.4 L1669.0 2991.2 L1672.1 2995.1 L1675.2 2998.8 L1678.3 3002.5 L1681.5 3006.2 L1684.6 3009.8 L1687.7 3013.3 L1690.8 3016.7 L1694.0 3020.2 L1697.1 3023.5 L1700.2 3026.8 L1703.4 3030.0 L1706.5 3033.1 L1709.6 3036.2 L1712.7 3039.2 L1715.9 3042.2 L1719.0 3045.1 L1722.1 3047.9 L1725.2 3050.7 L1728.4 3053.4 L1731.5 3056.0 L1734.6 3058.5 L1737.8 3061.0 L1740.9 3063.4 L1744.0 3065.8 L1747.1 3068.0 L1750.3 3070.2 L1753.4 3072.4 L1756.5 3074.4 L1759.7 3076.4 L1762.8 3078.3 L1765.9 3080.2 L1769.0 3081.9 L1772.2 3083.6 L1775.3 3085.2 L1778.4 3086.8 L1781.5 3088.3 L1784.7 3089.7 L1787.8 3091.0 L1790.9 3092.2 L1794.1 3093.4 L1797.2 3094.5 L1800.3 3095.5 L1803.4 3096.5 L1806.6 3097.4 L1809.7 3098.2 L1812.8 3098.9 L1815.9 3099.5 L1819.1 3100.1 L1822.2 3100.6 L1825.3 3101.0 L1828.5 3101.4 L1831.6 3101.6 L1834.7 3101.8 L1837.8 3101.9 L1841.0 3101.9 L1844.1 3101.9 L1847.2 3101.8 L1850.3 3101.6 L1853.5 3101.3 L1856.6 3101.0 L1859.7 3100.5 L1862.9 3100.0 L1866.0 3099.5 L1869.1 3098.8 L1872.2 3098.1 L1875.4 3097.3 L1878.5 3096.4 L1881.6 3095.4 L1884.7 3094.4 L1887.9 3093.3 L1891.0 3092.1 L1894.1 3090.8 L1897.3 3089.5 L1900.4 3088.1 L1903.5 3086.6 L1906.6 3085.1 L1909.8 3083.4 L1912.9 3081.7 L1916.0 3080.0 L1919.2 3078.1 L1922.3 3076.2 L1925.4 3074.2 L1928.5 3072.2 L1931.7 3070.0 L1934.8 3067.8 L1937.9 3065.6 L1941.0 3063.2 L1944.2 3060.8 L1947.3 3058.3 L1950.4 3055.8 L1953.6 3053.2 L1956.7 3050.5 L1959.8 3047.7 L1962.9 3044.9 L1966.1 3042.0 L1969.2 3039.1 L1972.3 3036.1 L1975.4 3033.0 L1978.6 3029.8 L1981.7 3026.6 L1984.8 3023.4 L1988.0 3020.1 L1991.1 3016.7 L1994.2 3013.2 L1997.3 3009.7 L2000.5 3006.1 L2003.6 3002.5 L2006.7 2998.8 L2009.8 2995.1 L2013.0 2991.3 L2016.1 2987.5 L2019.2 2983.6 L2022.4 2979.6 L2025.5 2975.6 L2028.6 2971.5 L2031.7 2967.4 L2034.9 2963.2 L2038.0 2959.0 L2041.1 2954.8 L2044.2 2950.5 L2047.4 2946.1 L2050.5 2941.7 L2053.6 2937.2 L2056.8 2932.8 L2059.9 2928.2 L2063.0 2923.6 L2066.1 2919.0 L2069.3 2914.4 L2072.4 2909.7 L2075.5 2904.9 L2078.6 2900.1 L2081.8 2895.3 L2084.9 2890.5 L2088.0 2885.6 L2091.2 2880.7 L2094.3 2875.7 L2097.4 2870.7 L2100.5 2865.7 L2103.7 2860.7 L2106.8 2855.6 L2109.9 2850.5 L2113.1 2845.4 L2116.2 2840.2 L2119.3 2835.1 L2122.4 2829.9 L2125.6 2824.7 L2128.7 2819.4 L2131.8 2814.2 L2134.9 2808.9 L2138.1 2803.6 L2141.2 2798.3 L2144.3 2793.0 L2147.5 2787.7 L2150.6 2782.3 L2153.7 2777.0 L2156.8 2771.6 L2160.0 2766.2 L2163.1 2760.9 L2166.2 2755.5 L2169.3 2750.1 L2172.5 2744.7 L2175.6 2739.3 L2178.7 2734.0 L2181.9 2728.6 L2185.0 2723.2 L2188.1 2717.8 L2191.2 2712.4 L2194.4 2707.1 L2197.5 2701.7 L2200.6 2696.4 L2203.7 2691.1 L2206.9 2685.8 L2210.0 2680.5" stroke="#EDB120"/>
<path d="M271.0 2668.0 L272.6 2668.3 L274.1 2668.9 L275.7 2669.7 L277.3 2670.8 L278.8 2672.1 L280.4 2673.6 L281.9 2675.3 L283.5 2677.2 L285.1 2679.3 L286.6 2681.6 L288.2 2684.0 L289.8 2686.6 L291.3 2689.4 L292.9 2692.3 L294.5 2695.3 L296.0 2698.4 L297.6 2701.7 L299.1 2705.1 L300.7 2708.7 L302.3 2712.3 L303.8 2716.0 L305.4 2719.9 L307.0 2723.8 L308.5 2727.8 L310.1 2732.0 L311.7 2736.1 L313.2 2740.4 L314.8 2744.7 L316.3 2749.1 L317.9 2753.6 L319.5 2758.1 L321.0 2762.6 L322.6 2767.2 L324.2 2771.8 L325.7 2776.5 L327.3 2781.2 L328.9 2785.9 L330.4 2790.7 L332.0 2795.4 L333.5 2800.2 L335.1 2805.0 L336.7 2809.8 L338.2 2814.5 L339.8 2819.3 L341.4 2824.1 L342.9 2828.8 L344.5 2833.6 L346.1 2838.3 L347.6 2843.0 L349.2 2847.7 L350.7 2852.3 L352.3 2856.9 L353.9 2861.5 L355.4 2866.0 L357.0 2870.5 L358.6 2874.9 L360.1 2879.3 L361.7 2883.7 L363.3 2888.0 L364.8 2892.2 L366.4 2896.4 L367.9 2900.5 L369.5 2904.5 L371.1 2908.5 L372.6 2912.4 L374.2 2916.3 L375.8 2920.0 L377.3 2923.8 L378.9 2927.4 L380.5 2930.9 L382.0 2934.4 L383.6 2937.8 L385.2 2941.2 L386.7 2944.4 L388.3 2947.6 L389.8 2950.6 L391.4 2953.6 L393.0 2956.6 L394.5 2959.4 L396.1 2962.1 L397.7 2964.8 L399.2 2967.4 L400.8 2969.9 L402.4 2972.3 L403.9 2974.6 L405.5 2976.8 L407.0 2979.0 L408.6 2981.0 L410.2 2983.0 L411.7 2984.9 L413.3 2986.7 L414.9 2988.4 L416.4 2990.0 L418.0 2991.6 L419.6 2993.0 L421.1 2994.4 L422.7 2995.7 L424.2 2996.9 L425.8 2998.0 L427.4 2999.1 L428.9 3000.0 L430.5 3000.9 L432.1 3001.7 L433.6 3002.4 L435.2 3003.1 L436.8 3003.6 L438.3 3004.1 L439.9 3004.5 L441.4 3004.8 L443.0 3005.0 L444.6 3005.2 L446.1 3005.3 L447.7 3005.3 L449.3 3005.3 L450.8 3005.1 L452.4 3004.9 L454.0 3004.6 L455.5 3004.3 L457.1 3003.8 L458.6 3003.3 L460.2 3002.8 L461.8 3002.1 L463.3 3001.4 L464.9 3000.6 L466.5 2999.8 L468.0 2998.9 L469.6 2997.9 L471.2 2996.8 L472.7 2995.7 L474.3 2994.5 L475.8 2993.3 L477.4 2992.0 L479.0 2990.6 L480.5 2989.1 L482.1 2987.6 L483.7 2986.0 L485.2 2984.4 L486.8 2982.7 L488.4 2980.9 L489.9 2979.1 L491.5 2977.2 L493.0 2975.2 L494.6 2973.2 L496.2 2971.2 L497.7 2969.0 L499.3 2966.8 L500.9 2964.6 L502.4 2962.3 L504.0 2959.9 L505.6 2957.5 L507.1 2955.0 L508.7 2952.5 L510.2 2949.9 L511.8 2947.3 L513.4 2944.6 L514.9 2941.8 L516.5 2939.0 L518.1 2936.2 L519.6 2933.3 L521.2 2930.4 L522.8 2927.4 L524.3 2924.3 L525.9 2921.3 L527.4 2918.1 L529.0 2915.0 L530.6 2911.8 L532.1 2908.5 L533.7 2905.2 L535.3 2901.9 L536.8 2898.5 L538.4 2895.1 L540.0 2891.7 L541.5 2888.2 L543.1 2884.7 L544.6 2881.1 L546.2 2877.6 L547.8 2874.0 L549.3 2870.3 L550.9 2866.7 L552.5 2863.0 L554.0 2859.3 L555.6 2855.5 L557.2 2851.8 L558.7 2848.0 L560.3 2844.2 L561.9 2840.3 L563.4 2836.5 L565.0 2832.6 L566.5 2828.7 L568.1 2824.8 L569.7 2820.9 L571.2 2816.9 L572.8 2813.0 L574.4 2809.0 L575.9 2805.0 L577.5 2801.0 L579.1 2797.0 L580.6 2793.0 L582.2 2788.9 L583.7 2784.9 L585.3 2780.8 L586.9 2776.8 L588.4 2772.7 L590.0 2768.7 L591.6 2764.6 L593.1 2760.5 L594.7 2756.4 L596.3 2752.3 L597.8 2748.2 L599.4 2744.1 L600.9 2740.0 L602.5 2735.9 L604.1 2731.8 L605.6 2727.7 L607.2 2723.5 L608.8 2719.4 L610.3 2715.3 L611.9 2711.2 L613.5 2707.1 L615.0 2703.0 L616.6 2698.8 L618.1 2694.7 L619.7 2690.6 L621.3 2686.5 L622.8 2682.4 L624.4 2678.3 L626.0 2674.2 L627.5 2670.1 L629.1 2666.0 L630.7 2661.9 L632.2 2657.8 L633.8 2653.8 L635.3 2649.7 L636.9 2645.6 L638.5 2641.6 L640.0 2637.5 L641.6 2633.4 L643.2 2629.4 L644.7 2625.4 L646.3 2621.3 L649.4 2613.3 L652.5 2605.3 L655.7 2597.3 L658.8 2589.3 L661.9 2581.4 L665.1 2573.5 L668.2 2565.7 L671.3 2557.9 L674.4 2550.2 L677.6 2542.4 L680.7 2534.8 L683.8 2527.2 L686.9 2519.6 L690.1 2512.1 L693.2 2504.7 L696.3 2497.3 L699.5 2489.9 L702.6 2482.7 L705.7 2475.5 L708.8 2468.3 L712.0 2461.2 L715.1 2454.2 L718.2 2447.3 L721.3 2440.5 L724.5 2433.7 L727.6 2427.0 L730.7 2420.4 L733.9 2413.8 L737.0 2407.4 L740.1 2401.0 L743.2 2394.7 L746.4 2388.5 L749.5 2382.5 L752.6 2376.5 L755.8 2370.6 L758.9 2364.8 L762.0 2359.1 L765.1 2353.5 L768.3 2348.0 L771.4 2342.6 L774.5 2337.4 L777.6 2332.2 L780.8 2327.2 L783.9 2322.3 L787.0 2317.5 L790.2 2312.8 L793.3 2308.2 L796.4 2303.8 L799.5 2299.5 L802.7 2295.3 L805.8 2291.2 L808.9 2287.3 L812.0 2283.5 L815.2 2279.8 L818.3 2276.3 L821.4 2272.9 L824.6 2269.6 L827.7 2266.5 L830.8 2263.5 L833.9 2260.7 L837.1 2258.0 L840.2 2255.4 L843.3 2253.0 L846.4 2250.7 L849.6 2248.5 L852.7 2246.6 L855.8 2244.7 L859.0 2243.0 L862.1 2241.4 L865.2 2240.0 L868.3 2238.8 L871.5 2237.7 L874.6 2236.7 L877.7 2235.9 L880.8 2235.2 L884.0 2234.7 L887.1 2234.4 L890.2 2234.1 L893.4 2234.1 L896.5 2234.2 L899.6 2234.4 L902.7 2234.8 L905.9 2235.3 L909.0 2236.0 L912.1 2236.8 L915.2 2237.8 L918.4 2239.0 L921.5 2240.2 L924.6 2241.7 L927.8 2243.3 L930.9 2245.0 L934.0 2246.9 L937.1 2248.9 L940.3 2251.0 L943.4 2253.3 L946.5 2255.8 L949.7 2258.4 L952.8 2261.1 L955.9 2264.0 L959.0 2267.0 L962.2 2270.2 L965.3 2273.5 L968.4 2276.9 L971.5 2280.5 L974.7 2284.2 L977.8 2288.0 L980.9 2292.0 L984.1 2296.1 L987.2 2300.3 L990.3 2304.7 L993.4 2309.2 L996.6 2313.8 L999.7 2318.5 L1002.8 2323.4 L1005.9 2328.3 L1009.1 2333.4 L1012.2 2338.6 L1015.3 2343.9 L1018.5 2349.4 L1021.6 2354.9 L1024.7 2360.6 L1027.8 2366.3 L1031.0 2372.2 L1034.1 2378.2 L1037.2 2384.2 L1040.3 2390.4 L1043.5 2396.7 L1046.6 2403.0 L1049.7 2409.5 L1052.9 2416.0 L1056.0 2422.6 L1059.1 2429.3 L1062.2 2436.1 L1065.4 2443.0 L1068.5 2450.0 L1071.6 2457.0 L1074.7 2464.1 L1077.9 2471.3 L1081.0 2478.5 L1084.1 2485.8 L1087.3 2493.2 L1090.4 2500.6 L1093.5 2508.1 L1096.6 2515.7 L1099.8 2523.3 L1102.9 2530.9 L1106.0 2538.6 L1109.1 2546.4 L1112.3 2554.1 L1115.4 2562.0 L1118.5 2569.8 L1121.7 2577.7 L1124.8 2585.6 L1127.9 2593.6 L1131.0 2601.6 L1134.2 2609.6 L1137.3 2617.6 L1140.4 2625.7 L1143.5 2633.7 L1146.7 2641.8 L1149.8 2649.9 L1152.9 2657.9 L1156.1 2666.0 L1159.2 2674.1 L1162.3 2682.2 L1165.4 2690.3 L1168.6 2698.4 L1171.7 2706.4 L1174.8 2714.5 L1178.0 2722.5 L1181.1 2730.5 L1184.2 2738.5 L1187.3 2746.5 L1190.5 2754.4 L1193.6 2762.3 L1196.7 2770.2 L1199.8 2778.1 L1203.0 2785.9 L1206.1 2793.6 L1209.2 2801.3 L1212.4 2809.0 L1215.5 2816.6 L1218.6 2824.2 L1221.7 2831.7 L1224.9 2839.2 L1228.0 2846.6 L1231.1 2853.9 L1234.2 2861.2 L1237.4 2868.4 L1240.5 2875.6 L1243.6 2882.6 L1246.8 2889.6 L1249.9 2896.5 L1253.0 2903.4 L1256.1 2910.1 L1259.3 2916.8 L1262.4 2923.4 L1265.5 2929.9 L1268.6 2936.3 L1271.8 2942.6 L1274.9 2948.8 L1278.0 2954.9 L1281.2 2960.9 L1284.3 2966.8 L1287.4 2972.6 L1290.5 2978.3 L1293.7 2983.9 L1296.8 2989.4 L1299.9 2994.8 L1303.0 3000.0 L1306.2 3005.2 L1309.3 3010.2 L1312.4 3015.1 L1315.6 3019.9 L1318.7 3024.6 L1321.8 3029.1 L1324.9 3033.5 L1328.1 3037.8 L1331.2 3042.0 L1334.3 3046.0 L1337.5 3049.9 L1340.6 3053.7 L1343.7 3057.3 L1346.8 3060.8 L1350.0 3064.1 L1353.1 3067.4 L1356.2 3070.4 L1359.3 3073.4 L1362.5 3076.2 L1365.6 3078.8 L1368.7 3081.4 L1371.9 3083.7 L1375.0 3086.0 L1378.1 3088.0 L1381.2 3090.0 L1384.4 3091.8 L1387.5 3093.4 L1390.6 3094.9 L1393.7 3096.2 L1396.9 3097.4 L1400.0 3098.5 L1403.1 3099.4 L1406.3 3100.1 L1409.4 3100.7 L1412.5 3101.2 L1415.6 3101.4 L1418.8 3101.6 L1421.9 3101.6 L1425.0 3101.4 L1428.1 3101.1 L1431.3 3100.7 L1434.4 3100.0 L1437.5 3099.3 L1440.7 3098.4 L1443.8 3097.3 L1446.9 3096.1 L1450.0 3094.7 L1453.2 3093.2 L1456.3 3091.6 L1459.4 3089.8 L1462.5 3087.8 L1465.7 3085.7 L1468.8 3083.5 L1471.9 3081.1 L1475.1 3078.6 L1478.2 3075.9 L1481.3 3073.1 L1484.4 3070.1 L1487.6 3067.0 L1490.7 3063.8 L1493.8 3060.4 L1496.9 3056.9 L1500.1 3053.2 L1503.2 3049.5 L1506.3 3045.5 L1509.5 3041.5 L1512.6 3037.3 L1515.7 3033.0 L1518.8 3028.6 L1522.0 3024.0 L1525.1 3019.4 L1528.2 3014.6 L1531.3 3009.6 L1534.5 3004.6 L1537.6 2999.4 L1540.7 2994.2 L1543.9 2988.8 L1547.0 2983.3 L1550.1 2977.7 L1553.2 2972.0 L1556.4 2966.1 L1559.5 2960.2 L1562.6 2954.2 L1565.8 2948.1 L1568.9 2941.8 L1572.0 2935.5 L1575.1 2929.1 L1578.3 2922.6 L1581.4 2916.0 L1584.5 2909.3 L1587.6 2902.6 L1590.8 2895.7 L1593.9 2888.8 L1597.0 2881.8 L1600.2 2874.7 L1603.3 2867.6 L1606.4 2860.4 L1609.5 2853.1 L1612.7 2845.7 L1615.8 2838.3 L1618.9 2830.9 L1622.0 2823.3 L1625.2 2815.8 L1628.3 2808.1 L1631.4 2800.5 L1634.6 2792.7 L1637.7 2785.0 L1640.8 2777.2 L1643.9 2769.3 L1647.1 2761.4 L1650.2 2753.5 L1653.3 2745.6 L1656.4 2737.6 L1659.6 2729.6 L1662.7 2721.6 L1665.8 2713.5 L1669.0 2705.5 L1672.1 2697.4 L1675.2 2689.4 L1678.3 2681.3 L1681.5 2673.2 L1684.6 2665.1 L1687.7 2657.0 L1690.8 2648.9 L1694.0 2640.9 L1697.1 2632.8 L1700.2 2624.7 L1703.4 2616.7 L1706.5 2608.7 L1709.6 2600.7 L1712.7 2592.7 L1715.9 2584.8 L1719.0 2576.8 L1722.1 2568.9 L1725.2 2561.1 L1728.4 2553.3 L1731.5 2545.5 L1734.6 2537.8 L1737.8 2530.1 L1740.9 2522.4 L1744.0 2514.8 L1747.1 2507.3 L1750.3 2499.8 L1753.4 2492.4 L1756.5 2485.0 L1759.7 2477.8 L1762.8 2470.5 L1765.9 2463.4 L1769.0 2456.3 L1772.2 2449.3 L1775.3 2442.3 L1778.4 2435.5 L1781.5 2428.7 L1784.7 2422.0 L1787.8 2415.4 L1790.9 2408.8 L1794.1 2402.4 L1797.2 2396.1 L1800.3 2389.8 L1803.4 2383.7 L1806.6 2377.6 L1809.7 2371.7 L1812.8 2365.8 L1815.9 2360.1 L1819.1 2354.5 L1822.2 2348.9 L1825.3 2343.5 L1828.5 2338.2 L1831.6 2333.0 L1834.7 2328.0 L1837.8 2323.0 L1841.0 2318.2 L1844.1 2313.5 L1847.2 2308.9 L1850.3 2304.4 L1853.5 2300.1 L1856.6 2295.9 L1859.7 2291.8 L1862.9 2287.9 L1866.0 2284.1 L1869.1 2280.4 L1872.2 2276.8 L1875.4 2273.4 L1878.5 2270.2 L1881.6 2267.0 L1884.7 2264.0 L1887.9 2261.2 L1891.0 2258.5 L1894.1 2255.9 L1897.3 2253.5 L1900.4 2251.2 L1903.5 2249.0 L1906.6 2247.0 L1909.8 2245.2 L1912.9 2243.5 L1916.0 2241.9 L1919.2 2240.5 L1922.3 2239.2 L1925.4 2238.1 L1928.5 2237.2 L1931.7 2236.3 L1934.8 2235.7 L1937.9 2235.2 L1941.0 2234.8 L1944.2 2234.6 L1947.3 2234.5 L1950.4 2234.6 L1953.6 2234.8 L1956.7 2235.2 L1959.8 2235.7 L1962.9 2236.4 L1966.1 2237.2 L1969.2 2238.1 L1972.3 2239.2 L1975.4 2240.5 L1978.6 2241.9 L1981.7 2243.4 L1984.8 2245.1 L1988.0 2247.0 L1991.1 2248.9 L1994.2 2251.1 L1997.3 2253.3 L2000.5 2255.7 L2003.6 2258.3 L2006.7 2260.9 L2009.8 2263.7 L2013.0 2266.7 L2016.1 2269.8 L2019.2 2273.0 L2022.4 2276.3 L2025.5 2279.8 L2028.6 2283.4 L2031.7 2287.1 L2034.9 2291.0 L2038.0 2294.9 L2041.1 2299.0 L2044.2 2303.3 L2047.4 2307.6 L2050.5 2312.0 L2053.6 2316.6 L2056.8 2321.3 L2059.9 2326.0 L2063.0 2330.9 L2066.1 2335.9 L2069.3 2341.0 L2072.4 2346.2 L2075.5 2351.5 L2078.6 2356.9 L2081.8 2362.4 L2084.9 2368.0 L2088.0 2373.6 L2091.2 2379.4 L2094.3 2385.2 L2097.4 2391.1 L2100.5 2397.1 L2103.7 2403.2 L2106.8 2409.4 L2109.9 2415.6 L2113.1 2421.8 L2116.2 2428.2 L2119.3 2434.6 L2122.4 2441.0 L2125.6 2447.5 L2128.7 2454.1 L2131.8 2460.7 L2134.9 2467.4 L2138.1 2474.1 L2141.2 2480.8 L2144.3 2487.6 L2147.5 2494.4 L2150.6 2501.2 L2153.7 2508.1 L2156.8 2515.0 L2160.0 2521.8 L2163.1 2528.8 L2166.2 2535.7 L2169.3 2542.6 L2172.5 2549.5 L2175.6 2556.5 L2178.7 2563.4 L2181.9 2570.3 L2185.0 2577.2 L2188.1 2584.1 L2191.2 2591.0 L2194.4 2597.9 L2197.5 2604.7 L2200.6 2611.5 L2203.7 2618.3 L2206.9 2625.0 L2210.0 2631.7" stroke="#7E2F8E"/>
<path d="M271.0 2668.0 L272.6 2667.8 L274.1 2667.2 L275.7 2666.3 L277.3 2665.2 L278.8 2663.8 L280.4 2662.3 L281.9 2660.5 L283.5 2658.5 L285.1 2656.3 L286.6 2654.0 L288.2 2651.4 L289.8 2648.7 L291.3 2645.9 L292.9 2642.9 L294.5 2639.8 L296.0 2636.5 L297.6 2633.1 L299.1 2629.5 L300.7 2625.9 L302.3 2622.1 L303.8 2618.2 L305.4 2614.3 L307.0 2610.2 L308.5 2606.0 L310.1 2601.8 L311.7 2597.5 L313.2 2593.1 L314.8 2588.6 L316.3 2584.1 L317.9 2579.5 L319.5 2574.9 L321.0 2570.3 L322.6 2565.6 L324.2 2560.8 L325.7 2556.0 L327.3 2551.3 L328.9 2546.4 L330.4 2541.6 L332.0 2536.8 L333.5 2532.0 L335.1 2527.1 L336.7 2522.3 L338.2 2517.5 L339.8 2512.7 L341.4 2507.9 L342.9 2503.2 L344.5 2498.5 L346.1 2493.8 L347.6 2489.1 L349.2 2484.5 L350.7 2480.0 L352.3 2475.5 L353.9 2471.0 L355.4 2466.6 L357.0 2462.3 L358.6 2458.0 L360.1 2453.8 L361.7 2449.7 L363.3 2445.6 L364.8 2441.6 L366.4 2437.7 L367.9 2433.9 L369.5 2430.1 L371.1 2426.5 L372.6 2422.9 L374.2 2419.4 L375.8 2416.0 L377.3 2412.7 L378.9 2409.5 L380.5 2406.3 L382.0 2403.3 L383.6 2400.4 L385.2 2397.5 L386.7 2394.8 L388.3 2392.2 L389.8 2389.6 L391.4 2387.2 L393.0 2384.9 L394.5 2382.6 L396.1 2380.5 L397.7 2378.5 L399.2 2376.5 L400.8 2374.7 L402.4 2373.0 L403.9 2371.4 L405.5 2369.8 L407.0 2368.4 L408.6 2367.1 L410.2 2365.9 L411.7 2364.7 L413.3 2363.7 L414.9 2362.8 L416.4 2362.0 L418.0 2361.2 L419.6 2360.6 L421.1 2360.1 L422.7 2359.6 L424.2 2359.3 L425.8 2359.1 L427.4 2358.9 L428.9 2358.8 L430.5 2358.9 L432.1 2359.0 L433.6 2359.2 L435.2 2359.5 L436.8 2360.0 L438.3 2360.4 L439.9 2361.0 L441.4 2361.7 L443.0 2362.5 L444.6 2363.3 L446.1 2364.3 L447.7 2365.3 L449.3 2366.4 L450.8 2367.6 L452.4 2368.9 L454.0 2370.3 L455.5 2371.8 L457.1 2373.4 L458.6 2375.0 L460.2 2376.7 L461.8 2378.5 L463.3 2380.4 L464.9 2382.4 L466.5 2384.5 L468.0 2386.7 L469.6 2388.9 L471.2 2391.2 L472.7 2393.6 L474.3 2396.1 L475.8 2398.7 L477.4 2401.3 L479.0 2404.1 L480.5 2406.9 L482.1 2409.8 L483.7 2412.8 L485.2 2415.8 L486.8 2419.0 L488.4 2422.2 L489.9 2425.5 L491.5 2428.8 L493.0 2432.3 L494.6 2435.8 L496.2 2439.4 L497.7 2443.1 L499.3 2446.8 L500.9 2450.6 L502.4 2454.5 L504.0 2458.4 L505.6 2462.4 L507.1 2466.5 L508.7 2470.6 L510.2 2474.8 L511.8 2479.1 L513.4 2483.4 L514.9 2487.8 L516.5 2492.3 L518.1 2496.7 L519.6 2501.3 L521.2 2505.9 L522.8 2510.5 L524.3 2515.2 L525.9 2520.0 L527.4 2524.7 L529.0 2529.6 L530.6 2534.4 L532.1 2539.3 L533.7 2544.3 L535.3 2549.3 L536.8 2554.3 L538.4 2559.3 L540.0 2564.4 L541.5 2569.5 L543.1 2574.6 L544.6 2579.8 L546.2 2584.9 L547.8 2590.1 L549.3 2595.4 L550.9 2600.6 L552.5 2605.8 L554.0 2611.1 L555.6 2616.4 L557.2 2621.7 L558.7 2626.9 L560.3 2632.2 L561.9 2637.6 L563.4 2642.9 L565.0 2648.2 L566.5 2653.5 L568.1 2658.8 L569.7 2664.2 L571.2 2669.5 L572.8 2674.8 L574.4 2680.1 L575.9 2685.4 L577.5 2690.7 L579.1 2696.0 L580.6 2701.3 L582.2 2706.6 L583.7 2711.9 L585.3 2717.1 L586.9 2722.4 L588.4 2727.6 L590.0 2732.8 L591.6 2738.0 L593.1 2743.2 L594.7 2748.4 L596.3 2753.6 L597.8 2758.7 L599.4 2763.8 L600.9 2768.9 L602.5 2774.0 L604.1 2779.1 L605.6 2784.1 L607.2 2789.2 L608.8 2794.2 L610.3 2799.1 L611.9 2804.1 L613.5 2809.0 L615.0 2813.9 L616.6 2818.8 L618.1 2823.7 L619.7 2828.5 L621.3 2833.3 L622.8 2838.1 L624.4 2842.8 L626.0 2847.5 L627.5 2852.2 L629.1 2856.9 L630.7 2861.5 L632.2 2866.1 L633.8 2870.7 L635.3 2875.2 L636.9 2879.7 L638.5 2884.2 L640.0 2888.7 L641.6 2893.1 L643.2 2897.4 L644.7 2901.8 L646.3 2906.1 L649.4 2914.6 L652.5 2922.9 L655.7 2931.2 L658.8 2939.2 L661.9 2947.1 L665.1 2954.9 L668.2 2962.4 L671.3 2969.9 L674.4 2977.1 L677.6 2984.2 L680.7 2991.1 L683.8 2997.8 L686.9 3004.4 L690.1 3010.7 L693.2 3016.9 L696.3 3022.9 L699.5 3028.6 L702.6 3034.2 L705.7 3039.6 L708.8 3044.8 L712.0 3049.7 L715.1 3054.5 L718.2 3059.1 L721.3 3063.4 L724.5 3067.5 L727.6 3071.4 L730.7 3075.1 L733.9 3078.5 L737.0 3081.7 L740.1 3084.7 L743.2 3087.5 L746.4 3090.0 L749.5 3092.3 L752.6 3094.3 L755.8 3096.1 L758.9 3097.7 L762.0 3099.0 L765.1 3100.1 L768.3 3100.9 L771.4 3101.5 L774.5 3101.9 L777.6 3102.0 L780.8 3101.9 L783.9 3101.5 L787.0 3100.9 L790.2 3100.0 L793.3 3098.9 L796.4 3097.5 L799.5 3095.9 L802.7 3094.1 L805.8 3092.0 L808.9 3089.7 L812.0 3087.1 L815.2 3084.3 L818.3 3081.3 L821.4 3078.0 L824.6 3074.5 L827.7 3070.7 L830.8 3066.7 L833.9 3062.5 L837.1 3058.1 L840.2 3053.5 L843.3 3048.6 L846.4 3043.5 L849.6 3038.2 L852.7 3032.7 L855.8 3026.9 L859.0 3021.0 L862.1 3014.9 L865.2 3008.5 L868.3 3002.0 L871.5 2995.3 L874.6 2988.4 L877.7 2981.3 L880.8 2974.0 L884.0 2966.6 L887.1 2959.0 L890.2 2951.2 L893.4 2943.2 L896.5 2935.1 L899.6 2926.9 L902.7 2918.5 L905.9 2909.9 L909.0 2901.2 L912.1 2892.4 L915.2 2883.5 L918.4 2874.4 L921.5 2865.2 L924.6 2855.9 L927.8 2846.5 L930.9 2837.0 L934.0 2827.3 L937.1 2817.6 L940.3 2807.8 L943.4 2798.0 L946.5 2788.0 L949.7 2778.0 L952.8 2767.9 L955.9 2757.8 L959.0 2747.6 L962.2 2737.4 L965.3 2727.1 L968.4 2716.8 L971.5 2706.5 L974.7 2696.1 L977.8 2685.7 L980.9 2675.3 L984.1 2664.9 L987.2 2654.6 L990.3 2644.2 L993.4 2633.8 L996.6 2623.5 L999.7 2613.1 L1002.8 2602.9 L1005.9 2592.6 L1009.1 2582.4 L1012.2 2572.2 L1015.3 2562.1 L1018.5 2552.1 L1021.6 2542.1 L1024.7 2532.2 L1027.8 2522.4 L1031.0 2512.6 L1034.1 2503.0 L1037.2 2493.4 L1040.3 2484.0 L1043.5 2474.6 L1046.6 2465.4 L1049.7 2456.3 L1052.9 2447.3 L1056.0 2438.4 L1059.1 2429.7 L1062.2 2421.1 L1065.4 2412.6 L1068.5 2404.3 L1071.6 2396.1 L1074.7 2388.1 L1077.9 2380.3 L1081.0 2372.6 L1084.1 2365.1 L1087.3 2357.8 L1090.4 2350.6 L1093.5 2343.6 L1096.6 2336.9 L1099.8 2330.3 L1102.9 2323.9 L1106.0 2317.7 L1109.1 2311.7 L1112.3 2305.9 L1115.4 2300.3 L1118.5 2294.9 L1121.7 2289.8 L1124.8 2284.8 L1127.9 2280.1 L1131.0 2275.6 L1134.2 2271.4 L1137.3 2267.3 L1140.4 2263.5 L1143.5 2260.0 L1146.7 2256.6 L1149.8 2253.5 L1152.9 2250.7 L1156.1 2248.0 L1159.2 2245.7 L1162.3 2243.5 L1165.4 2241.6 L1168.6 2240.0 L1171.7 2238.6 L1174.8 2237.5 L1178.0 2236.6 L1181.1 2235.9 L1184.2 2235.5 L1187.3 2235.4 L1190.5 2235.5 L1193.6 2235.8 L1196.7 2236.4 L1199.8 2237.2 L1203.0 2238.3 L1206.1 2239.7 L1209.2 2241.3 L1212.4 2243.1 L1215.5 2245.2 L1218.6 2247.5 L1221.7 2250.1 L1224.9 2252.9 L1228.0 2255.9 L1231.1 2259.2 L1234.2 2262.7 L1237.4 2266.5 L1240.5 2270.5 L1243.6 2274.7 L1246.8 2279.1 L1249.9 2283.8 L1253.0 2288.7 L1256.1 2293.8 L1259.3 2299.1 L1262.4 2304.7 L1265.5 2310.4 L1268.6 2316.4 L1271.8 2322.5 L1274.9 2328.9 L1278.0 2335.4 L1281.2 2342.2 L1284.3 2349.1 L1287.4 2356.2 L1290.5 2363.5 L1293.7 2371.0 L1296.8 2378.6 L1299.9 2386.5 L1303.0 2394.4 L1306.2 2402.6 L1309.3 2410.8 L1312.4 2419.3 L1315.6 2427.9 L1318.7 2436.6 L1321.8 2445.4 L1324.9 2454.4 L1328.1 2463.5 L1331.2 2472.7 L1334.3 2482.0 L1337.5 2491.5 L1340.6 2501.0 L1343.7 2510.7 L1346.8 2520.4 L1350.0 2530.2 L1353.1 2540.1 L1356.2 2550.1 L1359.3 2560.1 L1362.5 2570.2 L1365.6 2580.3 L1368.7 2590.5 L1371.9 2600.8 L1375.0 2611.1 L1378.1 2621.4 L1381.2 2631.7 L1384.4 2642.1 L1387.5 2652.5 L1390.6 2662.9 L1393.7 2673.3 L1396.9 2683.7 L1400.0 2694.0 L1403.1 2704.4 L1406.3 2714.8 L1409.4 2725.1 L1412.5 2735.4 L1415.6 2745.6 L1418.8 2755.8 L1421.9 2766.0 L1425.0 2776.1 L1428.1 2786.1 L1431.3 2796.1 L1434.4 2806.0 L1437.5 2815.8 L1440.7 2825.5 L1443.8 2835.1 L1446.9 2844.7 L1450.0 2854.1 L1453.2 2863.4 L1456.3 2872.7 L1459.4 2881.8 L1462.5 2890.7 L1465.7 2899.6 L1468.8 2908.3 L1471.9 2916.9 L1475.1 2925.3 L1478.2 2933.6 L1481.3 2941.7 L1484.4 2949.7 L1487.6 2957.5 L1490.7 2965.1 L1493.8 2972.6 L1496.9 2979.9 L1500.1 2987.0 L1503.2 2993.9 L1506.3 3000.7 L1509.5 3007.2 L1512.6 3013.6 L1515.7 3019.7 L1518.8 3025.7 L1522.0 3031.4 L1525.1 3037.0 L1528.2 3042.3 L1531.3 3047.4 L1534.5 3052.3 L1537.6 3056.9 L1540.7 3061.4 L1543.9 3065.6 L1547.0 3069.6 L1550.1 3073.3 L1553.2 3076.9 L1556.4 3080.1 L1559.5 3083.2 L1562.6 3086.0 L1565.8 3088.6 L1568.9 3090.9 L1572.0 3093.0 L1575.1 3094.8 L1578.3 3096.4 L1581.4 3097.7 L1584.5 3098.8 L1587.6 3099.6 L1590.8 3100.2 L1593.9 3100.6 L1597.0 3100.7 L1600.2 3100.5 L1603.3 3100.1 L1606.4 3099.5 L1609.5 3098.6 L1612.7 3097.4 L1615.8 3096.0 L1618.9 3094.4 L1622.0 3092.5 L1625.2 3090.3 L1628.3 3088.0 L1631.4 3085.3 L1634.6 3082.5 L1637.7 3079.4 L1640.8 3076.0 L1643.9 3072.4 L1647.1 3068.6 L1650.2 3064.6 L1653.3 3060.3 L1656.4 3055.8 L1659.6 3051.1 L1662.7 3046.2 L1665.8 3041.0 L1669.0 3035.6 L1672.1 3030.1 L1675.2 3024.3 L1678.3 3018.3 L1681.5 3012.1 L1684.6 3005.7 L1687.7 2999.1 L1690.8 2992.3 L1694.0 2985.3 L1697.1 2978.2 L1700.2 2970.8 L1703.4 2963.3 L1706.5 2955.6 L1709.6 2947.8 L1712.7 2939.8 L1715.9 2931.6 L1719.0 2923.3 L1722.1 2914.8 L1725.2 2906.2 L1728.4 2897.5 L1731.5 2888.6 L1734.6 2879.6 L1737.8 2870.5 L1740.9 2861.3 L1744.0 2851.9 L1747.1 2842.5 L1750.3 2832.9 L1753.4 2823.3 L1756.5 2813.5 L1759.7 2803.7 L1762.8 2793.8 L1765.9 2783.8 L1769.0 2773.8 L1772.2 2763.7 L1775.3 2753.6 L1778.4 2743.4 L1781.5 2733.1 L1784.7 2722.8 L1787.8 2712.5 L1790.9 2702.2 L1794.1 2691.8 L1797.2 2681.5 L1800.3 2671.1 L1803.4 2660.7 L1806.6 2650.3 L1809.7 2640.0 L1812.8 2629.6 L1815.9 2619.3 L1819.1 2609.0 L1822.2 2598.8 L1825.3 2588.5 L1828.5 2578.4 L1831.6 2568.3 L1834.7 2558.2 L1837.8 2548.2 L1841.0 2538.3 L1844.1 2528.4 L1847.2 2518.7 L1850.3 2509.0 L1853.5 2499.4 L1856.6 2489.9 L1859.7 2480.5 L1862.9 2471.2 L1866.0 2462.1 L1869.1 2453.0 L1872.2 2444.1 L1875.4 2435.3 L1878.5 2426.6 L1881.6 2418.1 L1884.7 2409.7 L1887.9 2401.5 L1891.0 2393.5 L1894.1 2385.5 L1897.3 2377.8 L1900.4 2370.2 L1903.5 2362.8 L1906.6 2355.6 L1909.8 2348.5 L1912.9 2341.6 L1916.0 2335.0 L1919.2 2328.5 L1922.3 2322.2 L1925.4 2316.1 L1928.5 2310.2 L1931.7 2304.5 L1934.8 2299.0 L1937.9 2293.7 L1941.0 2288.7 L1944.2 2283.8 L1947.3 2279.2 L1950.4 2274.8 L1953.6 2270.6 L1956.7 2266.7 L1959.8 2263.0 L1962.9 2259.5 L1966.1 2256.2 L1969.2 2253.2 L1972.3 2250.4 L1975.4 2247.8 L1978.6 2245.5 L1981.7 2243.4 L1984.8 2241.6 L1988.0 2240.0 L1991.1 2238.6 L1994.2 2237.5 L1997.3 2236.6 L2000.5 2236.0 L2003.6 2235.6 L2006.7 2235.4 L2009.8 2235.5 L2013.0 2235.8 L2016.1 2236.4 L2019.2 2237.1 L2022.4 2238.2 L2025.5 2239.4 L2028.6 2240.9 L2031.7 2242.6 L2034.9 2244.6 L2038.0 2246.8 L2041.1 2249.2 L2044.2 2251.8 L2047.4 2254.7 L2050.5 2257.7 L2053.6 2261.0 L2056.8 2264.5 L2059.9 2268.2 L2063.0 2272.1 L2066.1 2276.2 L2069.3 2280.5 L2072.4 2285.1 L2075.5 2289.8 L2078.6 2294.6 L2081.8 2299.7 L2084.9 2305.0 L2088.0 2310.4 L2091.2 2316.0 L2094.3 2321.7 L2097.4 2327.7 L2100.5 2333.7 L2103.7 2340.0 L2106.8 2346.3 L2109.9 2352.8 L2113.1 2359.5 L2116.2 2366.3 L2119.3 2373.2 L2122.4 2380.2 L2125.6 2387.3 L2128.7 2394.6 L2131.8 2401.9 L2134.9 2409.3 L2138.1 2416.8 L2141.2 2424.4 L2144.3 2432.1 L2147.5 2439.8 L2150.6 2447.6 L2153.7 2455.5 L2156.8 2463.4 L2160.0 2471.3 L2163.1 2479.3 L2166.2 2487.3 L2169.3 2495.3 L2172.5 2503.4 L2175.6 2511.4 L2178.7 2519.5 L2181.9 2527.5 L2185.0 2535.5 L2188.1 2543.5 L2191.2 2551.5 L2194.4 2559.4 L2197.5 2567.3 L2200.6 2575.1 L2203.7 2582.9 L2206.9 2590.6 L2210.0 2598.3" stroke="#77AC30"/></g>
<g class="leg"><rect class="lg" x="1799" y="1800.1" width="411" height="385"/>
<path d="M1816.2 1844.9H1995.9" stroke="#0072BD"/>
<text class="le" x="2008.3" y="1868.3" textLength="181.8" lengthAdjust="spacingAndGlyphs">Mode 1</text>
<path d="M1816.2 1918.8H1995.9" stroke="#D95319"/>
<text class="le" x="2008.3" y="1942.2" textLength="181.8" lengthAdjust="spacingAndGlyphs">Mode 2</text>
<path d="M1816.2 1992.7H1995.9" stroke="#EDB120"/>
<text class="le" x="2008.3" y="2016.1" textLength="181.8" lengthAdjust="spacingAndGlyphs">Mode 3</text>
<path d="M1816.2 2066.6H1995.9" stroke="#7E2F8E"/>
<text class="le" x="2008.3" y="2090.0" textLength="181.8" lengthAdjust="spacingAndGlyphs">Mode 4</text>
<path d="M1816.2 2140.5H1995.9" stroke="#77AC30"/>
<text class="le" x="2008.3" y="2163.9" textLength="181.8" lengthAdjust="spacingAndGlyphs">Mode 5</text></g>
<g transform="translate(90.0 1199.3) rotate(-90)"><text class="rm" x="-3.2" y="0.0" style="font-size:96.0px" textLength="246.8" lengthAdjust="spacingAndGlyphs">Mode</text><text class="rm" x="273.4" y="0.0" style="font-size:96.0px" textLength="238.8" lengthAdjust="spacingAndGlyphs">shape</text><text class="mi" x="549.2" y="0.0" style="font-size:100.0px" textLength="70.6" lengthAdjust="spacingAndGlyphs">X</text><text class="mi" x="620.4" y="14.5" style="font-size:64.0px" textLength="44.5" lengthAdjust="spacingAndGlyphs">n</text><text class="rm" x="672.5" y="2.0" style="font-size:104.0px" textLength="28.3" lengthAdjust="spacingAndGlyphs">(</text><text class="mi" x="707.6" y="0.0" style="font-size:92.0px" textLength="47.1" lengthAdjust="spacingAndGlyphs">x</text><text class="rm" x="761.0" y="2.0" style="font-size:104.0px" textLength="29.3" lengthAdjust="spacingAndGlyphs">)</text></g>
<g transform="translate(93.2 2950.0) rotate(-90)"><text class="rm" x="-3.2" y="0.0" style="font-size:96.0px" textLength="246.7" lengthAdjust="spacingAndGlyphs">Mode</text><text class="rm" x="273.2" y="0.0" style="font-size:96.0px" textLength="238.8" lengthAdjust="spacingAndGlyphs">shape</text><text class="mi" x="542.1" y="0.0" style="font-size:100.0px" textLength="62.3" lengthAdjust="spacingAndGlyphs">V</text><text class="mi" x="595.5" y="14.2" style="font-size:64.0px" textLength="44.6" lengthAdjust="spacingAndGlyphs">n</text><text class="rm" x="648.5" y="0.5" style="font-size:104.0px" textLength="28.3" lengthAdjust="spacingAndGlyphs">(</text><text class="mi" x="683.7" y="0.0" style="font-size:92.0px" textLength="47.0" lengthAdjust="spacingAndGlyphs">x</text><text class="rm" x="737.1" y="0.5" style="font-size:104.0px" textLength="28.3" lengthAdjust="spacingAndGlyphs">)</text></g>
</svg>
</body></html>
